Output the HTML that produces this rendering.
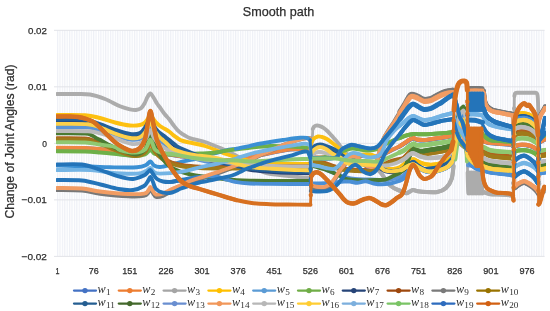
<!DOCTYPE html>
<html><head><meta charset="utf-8"><title>Smooth path</title><style>html,body{margin:0;padding:0;background:#fff}svg{display:block}</style></head><body>
<svg width="550" height="311" viewBox="0 0 550 311">
<defs><pattern id="vg" x="57" y="0" width="2.407" height="10" patternUnits="userSpaceOnUse"><rect x="0" y="0" width="1.2" height="10" fill="#EEF0F6"/></pattern><clipPath id="cp"><rect x="56" y="20" width="490" height="246"/></clipPath></defs>
<rect width="550" height="311" fill="#fff"/>
<rect x="57.0" y="30.3" width="487.6" height="226.1" fill="url(#vg)"/>
<line x1="54" x2="544.6" y1="30.30" y2="30.30" stroke="#E2E3E8" stroke-width="1"/>
<line x1="54" x2="544.6" y1="86.82" y2="86.82" stroke="#E2E3E8" stroke-width="1"/>
<line x1="54" x2="544.6" y1="143.35" y2="143.35" stroke="#E2E3E8" stroke-width="1"/>
<line x1="54" x2="544.6" y1="199.88" y2="199.88" stroke="#E2E3E8" stroke-width="1"/>
<line x1="54" x2="544.6" y1="256.40" y2="256.40" stroke="#E2E3E8" stroke-width="1"/>
<text x="278.5" y="16.1" font-family="Liberation Sans, Arial, sans-serif" font-size="13" fill="#2e2e2e" stroke="#2e2e2e" stroke-width="0.25" text-anchor="middle" textLength="71.5" lengthAdjust="spacingAndGlyphs">Smooth path</text>
<text transform="translate(14.3,141.5) rotate(-90)" font-family="Liberation Sans, Arial, sans-serif" font-size="12.3" fill="#2e2e2e" stroke="#2e2e2e" stroke-width="0.25" text-anchor="middle" textLength="154" lengthAdjust="spacingAndGlyphs">Change of Joint Angles (rad)</text>
<text x="46.9" y="33.8" font-family="Liberation Sans, Arial, sans-serif" font-size="9.6" fill="#2e2e2e" stroke="#2e2e2e" stroke-width="0.25" text-anchor="end" textLength="18.9" lengthAdjust="spacingAndGlyphs">0.02</text>
<text x="46.9" y="90.3" font-family="Liberation Sans, Arial, sans-serif" font-size="9.6" fill="#2e2e2e" stroke="#2e2e2e" stroke-width="0.25" text-anchor="end" textLength="18.9" lengthAdjust="spacingAndGlyphs">0.01</text>
<text x="46.9" y="146.8" font-family="Liberation Sans, Arial, sans-serif" font-size="9.6" fill="#2e2e2e" stroke="#2e2e2e" stroke-width="0.25" text-anchor="end" textLength="4.7" lengthAdjust="spacingAndGlyphs">0</text>
<text x="46.9" y="203.4" font-family="Liberation Sans, Arial, sans-serif" font-size="9.6" fill="#2e2e2e" stroke="#2e2e2e" stroke-width="0.25" text-anchor="end" textLength="25.3" lengthAdjust="spacingAndGlyphs">−0.01</text>
<text x="46.9" y="259.9" font-family="Liberation Sans, Arial, sans-serif" font-size="9.6" fill="#2e2e2e" stroke="#2e2e2e" stroke-width="0.25" text-anchor="end" textLength="25.3" lengthAdjust="spacingAndGlyphs">−0.02</text>
<text x="57.6" y="273.9" font-family="Liberation Sans, Arial, sans-serif" font-size="9.2" fill="#2e2e2e" stroke="#2e2e2e" stroke-width="0.25" text-anchor="middle" textLength="4.0" lengthAdjust="spacingAndGlyphs">1</text>
<text x="93.8" y="273.9" font-family="Liberation Sans, Arial, sans-serif" font-size="9.2" fill="#2e2e2e" stroke="#2e2e2e" stroke-width="0.25" text-anchor="middle" textLength="10.0" lengthAdjust="spacingAndGlyphs">76</text>
<text x="129.8" y="273.9" font-family="Liberation Sans, Arial, sans-serif" font-size="9.2" fill="#2e2e2e" stroke="#2e2e2e" stroke-width="0.25" text-anchor="middle" textLength="15.2" lengthAdjust="spacingAndGlyphs">151</text>
<text x="166.0" y="273.9" font-family="Liberation Sans, Arial, sans-serif" font-size="9.2" fill="#2e2e2e" stroke="#2e2e2e" stroke-width="0.25" text-anchor="middle" textLength="15.2" lengthAdjust="spacingAndGlyphs">226</text>
<text x="202.1" y="273.9" font-family="Liberation Sans, Arial, sans-serif" font-size="9.2" fill="#2e2e2e" stroke="#2e2e2e" stroke-width="0.25" text-anchor="middle" textLength="15.2" lengthAdjust="spacingAndGlyphs">301</text>
<text x="238.2" y="273.9" font-family="Liberation Sans, Arial, sans-serif" font-size="9.2" fill="#2e2e2e" stroke="#2e2e2e" stroke-width="0.25" text-anchor="middle" textLength="15.2" lengthAdjust="spacingAndGlyphs">376</text>
<text x="274.2" y="273.9" font-family="Liberation Sans, Arial, sans-serif" font-size="9.2" fill="#2e2e2e" stroke="#2e2e2e" stroke-width="0.25" text-anchor="middle" textLength="15.2" lengthAdjust="spacingAndGlyphs">451</text>
<text x="310.4" y="273.9" font-family="Liberation Sans, Arial, sans-serif" font-size="9.2" fill="#2e2e2e" stroke="#2e2e2e" stroke-width="0.25" text-anchor="middle" textLength="15.2" lengthAdjust="spacingAndGlyphs">526</text>
<text x="346.4" y="273.9" font-family="Liberation Sans, Arial, sans-serif" font-size="9.2" fill="#2e2e2e" stroke="#2e2e2e" stroke-width="0.25" text-anchor="middle" textLength="15.2" lengthAdjust="spacingAndGlyphs">601</text>
<text x="382.6" y="273.9" font-family="Liberation Sans, Arial, sans-serif" font-size="9.2" fill="#2e2e2e" stroke="#2e2e2e" stroke-width="0.25" text-anchor="middle" textLength="15.2" lengthAdjust="spacingAndGlyphs">676</text>
<text x="418.6" y="273.9" font-family="Liberation Sans, Arial, sans-serif" font-size="9.2" fill="#2e2e2e" stroke="#2e2e2e" stroke-width="0.25" text-anchor="middle" textLength="15.2" lengthAdjust="spacingAndGlyphs">751</text>
<text x="454.8" y="273.9" font-family="Liberation Sans, Arial, sans-serif" font-size="9.2" fill="#2e2e2e" stroke="#2e2e2e" stroke-width="0.25" text-anchor="middle" textLength="15.2" lengthAdjust="spacingAndGlyphs">826</text>
<text x="490.9" y="273.9" font-family="Liberation Sans, Arial, sans-serif" font-size="9.2" fill="#2e2e2e" stroke="#2e2e2e" stroke-width="0.25" text-anchor="middle" textLength="15.2" lengthAdjust="spacingAndGlyphs">901</text>
<text x="527.0" y="273.9" font-family="Liberation Sans, Arial, sans-serif" font-size="9.2" fill="#2e2e2e" stroke="#2e2e2e" stroke-width="0.25" text-anchor="middle" textLength="15.2" lengthAdjust="spacingAndGlyphs">976</text>
<g clip-path="url(#cp)" fill="none" stroke-linejoin="round" stroke-linecap="round">
<path d="M57.0,148.1C61.7,148.1 77.8,148.1 85.0,148.3C92.2,148.5 95.8,148.8 100.0,149.3C104.2,149.8 106.7,150.6 110.0,151.3C113.3,152.1 115.8,153.1 120.0,153.8C124.2,154.5 130.8,155.5 135.0,155.3C139.2,155.1 142.4,154.2 145.0,152.8C147.6,151.4 148.7,146.8 150.4,146.8C152.1,146.8 152.6,151.6 155.0,152.8C157.4,154.0 160.8,153.2 165.0,153.8C169.2,154.4 174.2,155.5 180.0,156.3C185.8,157.1 192.5,158.1 200.0,158.8C207.5,159.5 218.3,160.1 225.0,160.3C231.7,160.5 236.3,160.2 240.0,159.8C243.7,159.4 242.8,158.9 247.0,158.0C251.2,157.1 258.7,155.6 265.0,154.3C271.3,153.0 279.2,151.1 285.0,150.3C290.8,149.5 295.8,149.5 300.0,149.3C304.2,149.1 308.8,149.3 310.5,149.3M311.5,157.3C312.9,157.4 316.1,157.8 320.0,157.8C323.9,157.8 330.8,157.6 335.0,157.3C339.2,157.0 341.7,156.1 345.0,155.8C348.3,155.5 351.7,155.2 355.0,155.3C358.3,155.4 361.7,156.1 365.0,156.3C368.3,156.6 372.3,156.9 375.0,156.8C377.7,156.7 379.0,156.5 381.0,155.8C383.0,155.1 384.9,153.9 387.0,152.8C389.1,151.7 391.5,150.4 393.7,149.3C395.9,148.2 398.2,147.3 400.0,146.3C401.8,145.3 403.1,144.3 404.6,143.3C406.1,142.3 407.5,141.1 409.0,140.3C410.5,139.5 412.1,138.4 413.4,138.3C414.7,138.2 415.2,139.5 417.0,139.8C418.8,140.1 421.5,140.4 424.0,140.3C426.5,140.2 429.0,139.7 432.0,139.3C435.0,138.9 439.1,138.2 441.8,137.8C444.5,137.4 446.2,137.1 448.0,136.8C449.8,136.5 451.9,136.1 452.7,136.0M453.5,136.3C454.1,137.0 455.6,138.8 457.0,140.3C458.4,141.8 460.3,143.8 462.0,145.3C463.7,146.8 466.2,148.6 467.0,149.3M468.0,137.8L482.5,139.8M484.8,141.8C485.8,142.0 488.5,142.8 491.0,143.1C493.5,143.4 496.3,143.6 499.6,143.8C502.9,144.0 508.8,144.3 511.0,144.5C513.0,144.7 512.7,144.7 513.0,144.7M514.5,146.8C515.1,146.6 516.8,145.6 518.0,145.3C519.2,145.0 520.7,144.9 522.0,144.9C523.3,144.9 524.5,144.9 526.0,145.1C527.5,145.3 529.5,145.8 531.0,146.3C532.5,146.8 533.9,147.6 535.0,148.3C536.1,149.0 537.1,150.0 537.5,150.3M539.5,142.3L545.0,139.3" stroke="#3F74C6" stroke-width="3.9"/>
<path d="M310.5,149.3 L311.5,157.3M452.7,136.0 L453.5,136.3M467.0,149.3 L468.0,137.8M482.5,139.8 L484.8,141.8M513.0,144.7 L514.5,146.8M537.5,150.3 L539.5,142.3" stroke="#3F74C6" stroke-width="2.8"/>
<path d="M484.8,141.8C485.8,142.0 488.5,142.8 491.0,143.1C493.5,143.4 496.3,143.6 499.6,143.8C502.9,144.0 508.8,144.3 511.0,144.5C513.0,144.7 512.7,144.7 513.0,144.7" stroke="#3F74C6" stroke-width="4.4"/>
<path d="M514.5,146.8C515.1,146.6 516.8,145.6 518.0,145.3C519.2,145.0 520.7,144.9 522.0,144.9C523.3,144.9 524.5,144.9 526.0,145.1C527.5,145.3 529.5,145.8 531.0,146.3C532.5,146.8 533.9,147.6 535.0,148.3C536.1,149.0 537.1,150.0 537.5,150.3" stroke="#3F74C6" stroke-width="4.3"/>
<path d="M539.5,142.3L545.0,139.3" stroke="#3F74C6" stroke-width="4.3"/>
<path d="M400.0,146.3C400.8,145.8 403.1,144.3 404.6,143.3C406.1,142.3 407.5,141.1 409.0,140.3C410.5,139.5 412.1,138.4 413.4,138.3C414.7,138.2 415.2,139.5 417.0,139.8C418.8,140.1 421.5,140.4 424.0,140.3C426.5,140.2 429.0,139.7 432.0,139.3C435.0,138.9 439.1,138.2 441.8,137.8C444.5,137.4 446.2,137.1 448.0,136.8C449.8,136.5 451.9,136.1 452.7,136.0" stroke="#3F74C6" stroke-width="4.3"/>
<path d="M57.0,147.8C61.7,147.8 77.8,147.8 85.0,148.0C92.2,148.2 95.8,148.5 100.0,149.0C104.2,149.5 106.7,150.2 110.0,151.0C113.3,151.8 115.8,152.8 120.0,153.5C124.2,154.2 130.8,155.2 135.0,155.0C139.2,154.8 142.4,153.9 145.0,152.5C147.6,151.1 148.7,146.5 150.4,146.5C152.1,146.5 152.6,151.3 155.0,152.5C157.4,153.7 160.8,152.9 165.0,153.5C169.2,154.1 174.2,155.2 180.0,156.0C185.8,156.8 192.5,157.8 200.0,158.5C207.5,159.2 218.3,159.8 225.0,160.0C231.7,160.2 236.3,159.9 240.0,159.5C243.7,159.1 242.8,158.6 247.0,157.7C251.2,156.8 258.7,155.3 265.0,154.0C271.3,152.7 279.2,150.8 285.0,150.0C290.8,149.2 295.8,149.2 300.0,149.0C304.2,148.8 308.8,149.0 310.5,149.0M311.5,157.0C312.9,157.1 316.1,157.5 320.0,157.5C323.9,157.5 330.8,157.3 335.0,157.0C339.2,156.7 341.7,155.8 345.0,155.5C348.3,155.2 351.7,154.9 355.0,155.0C358.3,155.1 361.7,155.8 365.0,156.0C368.3,156.2 372.3,156.6 375.0,156.5C377.7,156.4 379.0,156.2 381.0,155.5C383.0,154.8 384.9,153.6 387.0,152.5C389.1,151.4 391.5,150.1 393.7,149.0C395.9,147.9 398.2,147.0 400.0,146.0C401.8,145.0 403.1,144.0 404.6,143.0C406.1,142.0 407.5,140.8 409.0,140.0C410.5,139.2 412.1,138.1 413.4,138.0C414.7,137.9 415.2,139.2 417.0,139.5C418.8,139.8 421.5,140.1 424.0,140.0C426.5,139.9 429.0,139.4 432.0,139.0C435.0,138.6 439.1,137.9 441.8,137.5C444.5,137.1 446.2,136.8 448.0,136.5C449.8,136.2 451.9,135.8 452.7,135.7M453.5,136.0C454.1,136.7 455.6,138.5 457.0,140.0C458.4,141.5 460.3,143.5 462.0,145.0C463.7,146.5 466.2,148.3 467.0,149.0M468.0,137.5L482.5,139.5M484.8,141.5C485.8,141.7 488.5,142.5 491.0,142.8C493.5,143.1 496.3,143.3 499.6,143.5C502.9,143.7 508.8,144.0 511.0,144.2C513.0,144.3 512.7,144.4 513.0,144.4M514.5,146.5C515.1,146.2 516.8,145.3 518.0,145.0C519.2,144.7 520.7,144.6 522.0,144.6C523.3,144.6 524.5,144.6 526.0,144.8C527.5,145.0 529.5,145.5 531.0,146.0C532.5,146.5 533.9,147.3 535.0,148.0C536.1,148.7 537.1,149.7 537.5,150.0M539.5,142.0L545.0,139.0" stroke="#EE8743" stroke-width="3.9"/>
<path d="M310.5,149.0 L311.5,157.0M452.7,135.7 L453.5,136.0M467.0,149.0 L468.0,137.5M482.5,139.5 L484.8,141.5M513.0,144.4 L514.5,146.5M537.5,150.0 L539.5,142.0" stroke="#EE8743" stroke-width="2.8"/>
<path d="M400.0,146.0C400.8,145.5 403.1,144.0 404.6,143.0C406.1,142.0 407.5,140.8 409.0,140.0C410.5,139.2 412.1,138.1 413.4,138.0C414.7,137.9 415.2,139.2 417.0,139.5C418.8,139.8 421.5,140.1 424.0,140.0C426.5,139.9 429.0,139.4 432.0,139.0C435.0,138.6 439.1,137.9 441.8,137.5C444.5,137.1 446.2,136.8 448.0,136.5C449.8,136.2 451.9,135.8 452.7,135.7" stroke="#EE8743" stroke-width="4.0"/>
<path d="M484.8,141.5C485.8,141.7 488.5,142.5 491.0,142.8C493.5,143.1 496.3,143.3 499.6,143.5C502.9,143.7 508.8,144.0 511.0,144.2C513.0,144.3 512.7,144.4 513.0,144.4" stroke="#EE8743" stroke-width="4.4"/>
<path d="M514.5,146.5C515.1,146.2 516.8,145.3 518.0,145.0C519.2,144.7 520.7,144.6 522.0,144.6C523.3,144.6 524.5,144.6 526.0,144.8C527.5,145.0 529.5,145.5 531.0,146.0C532.5,146.5 533.9,147.3 535.0,148.0C536.1,148.7 537.1,149.7 537.5,150.0" stroke="#EE8743" stroke-width="4.3"/>
<path d="M539.5,142.0L545.0,139.0" stroke="#EE8743" stroke-width="4.3"/>
<path d="M57.0,94.0C60.0,94.0 69.5,93.9 75.0,94.0C80.5,94.1 85.0,93.7 90.0,94.5C95.0,95.3 100.0,97.0 105.0,99.0C110.0,101.0 115.8,104.6 120.0,106.3C124.2,108.0 127.3,108.7 130.0,109.3C132.7,109.9 134.2,110.2 136.0,110.0C137.8,109.8 139.6,109.4 141.0,108.3C142.4,107.2 143.4,105.4 144.5,103.5C145.6,101.6 146.5,98.7 147.5,97.0C148.5,95.3 149.4,93.4 150.4,93.5C151.4,93.6 152.4,95.8 153.5,97.5C154.6,99.2 155.9,101.8 157.0,103.5C158.1,105.2 158.7,105.7 160.0,107.5C161.3,109.3 163.5,112.6 165.0,114.5C166.5,116.4 167.6,117.3 169.0,119.0C170.4,120.7 171.8,123.0 173.2,124.8C174.6,126.6 175.9,128.4 177.3,129.8C178.7,131.2 180.0,132.4 181.4,133.4C182.8,134.4 184.1,135.1 185.5,135.9C186.9,136.7 188.2,137.4 189.6,138.0C191.0,138.6 192.3,138.8 193.7,139.2C195.1,139.6 195.9,139.7 197.8,140.2C199.7,140.7 202.1,141.0 205.0,142.0C207.9,143.0 212.3,145.0 215.0,146.0C217.7,147.0 217.7,146.7 221.0,148.2C224.3,149.7 231.0,152.9 235.0,155.0C239.0,157.1 241.7,158.9 245.0,161.0C248.3,163.1 252.2,165.8 255.0,167.5C257.8,169.2 259.9,170.5 262.0,171.5C264.1,172.5 263.7,172.7 267.3,173.4C270.9,174.1 278.2,174.9 283.7,175.5C289.1,176.1 295.5,176.8 300.0,177.1C304.5,177.4 308.8,177.4 310.5,177.5M312.8,129.0C313.0,128.6 313.6,127.3 314.0,126.8C314.4,126.3 315.0,126.0 315.5,125.8C316.0,125.6 316.2,125.3 317.0,125.4C317.8,125.5 318.9,125.8 320.0,126.2C321.1,126.6 322.2,127.1 323.5,127.9C324.8,128.7 326.2,129.9 327.6,131.2C329.0,132.5 330.3,134.2 331.7,135.7C333.1,137.2 334.7,139.1 335.8,140.3C336.9,141.6 337.3,142.1 338.2,143.2C339.1,144.3 339.4,145.0 341.0,147.0C342.6,149.0 345.2,152.7 348.0,155.0C350.8,157.3 354.7,159.3 358.0,161.0C361.3,162.7 364.8,163.6 368.0,165.0C371.2,166.4 374.5,167.8 377.0,169.5C379.5,171.2 381.3,173.7 382.8,175.5C384.3,177.3 385.0,179.0 386.0,180.5C387.0,182.0 387.8,183.1 389.0,184.3C390.2,185.5 391.8,186.7 393.2,187.6C394.6,188.5 395.9,189.0 397.3,189.6C398.7,190.2 399.9,190.7 401.4,191.3C402.9,191.9 404.9,193.2 406.3,193.3C407.7,193.4 408.5,192.2 409.6,191.7C410.7,191.1 411.5,190.1 412.9,190.0C414.3,189.9 415.6,191.0 417.8,191.3C420.0,191.6 422.7,191.9 426.0,192.0C429.3,192.1 434.1,192.7 437.4,192.0C440.7,191.3 443.6,190.2 446.0,188.0C448.4,185.8 450.4,182.7 451.6,179.0C452.9,175.3 453.2,168.2 453.5,166.0M454.2,154.0C454.6,151.2 455.7,142.8 456.5,137.0C457.3,131.2 458.2,123.3 459.0,119.0C459.8,114.7 460.8,112.7 461.5,111.0C462.2,109.3 462.5,108.8 463.0,109.0C463.5,109.2 464.0,109.7 464.5,112.0C465.0,114.3 465.6,116.8 466.0,123.0C466.4,129.2 466.8,144.7 467.0,149.0M467.6,172.5C467.7,176.0 468.1,193.5 468.3,193.5C468.5,193.5 468.8,172.5 469.0,172.5C469.2,172.5 469.5,193.5 469.7,193.5C469.9,193.5 470.2,172.5 470.4,172.5C470.6,172.5 470.9,193.5 471.1,193.5C471.3,193.5 471.6,172.5 471.8,172.5C472.0,172.5 472.3,193.5 472.5,193.5C472.7,193.5 473.0,172.5 473.2,172.5C473.4,172.5 473.7,193.5 473.9,193.5C474.1,193.5 474.4,172.5 474.6,172.5C474.8,172.5 475.1,193.5 475.3,193.5C475.5,193.5 475.8,172.5 476.0,172.5C476.2,172.5 476.5,193.5 476.7,193.5C476.9,193.5 477.2,172.5 477.4,172.5C477.6,172.5 477.9,193.5 478.1,193.5C478.3,193.5 478.6,172.5 478.8,172.5C479.0,172.5 479.3,193.5 479.5,193.5C479.7,193.5 480.0,172.5 480.2,172.5C480.4,172.5 480.7,193.5 480.9,193.5C481.1,193.5 481.4,172.5 481.6,172.5C481.8,172.5 482.2,190.0 482.3,193.5M483.6,192.0C484.7,192.3 486.8,193.6 490.0,194.0C493.2,194.4 499.2,194.2 503.0,194.5C506.8,194.8 511.3,195.3 513.0,195.5M514.4,96.0C514.5,95.5 514.8,93.7 515.2,93.2C515.6,92.7 515.2,92.9 517.0,92.8C518.8,92.7 522.9,92.8 526.0,92.8C529.1,92.8 533.6,92.6 535.5,92.8C537.2,93.0 536.8,93.1 537.2,94.0C537.6,94.9 537.6,95.3 537.8,98.0C538.0,100.7 538.2,108.0 538.3,110.0M539.2,196.0L545.0,191.0" stroke="#ACACAC" stroke-width="3.9"/>
<path d="M310.5,177.5 L312.8,129.0M453.5,166.0 L454.2,154.0M467.0,149.0 L467.6,172.5M482.3,193.5 L483.6,192.0M513.0,195.5 L514.4,96.0M538.3,110.0 L539.2,196.0" stroke="#ACACAC" stroke-width="2.8"/>
<circle cx="311.1" cy="165.4" r="2.2" fill="#ACACAC" stroke="none"/>
<circle cx="311.6" cy="153.2" r="2.2" fill="#ACACAC" stroke="none"/>
<circle cx="312.2" cy="141.1" r="2.2" fill="#ACACAC" stroke="none"/>
<circle cx="467.3" cy="160.8" r="2.2" fill="#ACACAC" stroke="none"/>
<circle cx="513.2" cy="183.1" r="2.2" fill="#ACACAC" stroke="none"/>
<circle cx="513.4" cy="170.6" r="2.2" fill="#ACACAC" stroke="none"/>
<circle cx="513.5" cy="158.2" r="2.2" fill="#ACACAC" stroke="none"/>
<circle cx="513.7" cy="145.8" r="2.2" fill="#ACACAC" stroke="none"/>
<circle cx="513.9" cy="133.3" r="2.2" fill="#ACACAC" stroke="none"/>
<circle cx="514.0" cy="120.9" r="2.2" fill="#ACACAC" stroke="none"/>
<circle cx="514.2" cy="108.4" r="2.2" fill="#ACACAC" stroke="none"/>
<circle cx="538.4" cy="122.3" r="2.2" fill="#ACACAC" stroke="none"/>
<circle cx="538.6" cy="134.6" r="2.2" fill="#ACACAC" stroke="none"/>
<circle cx="538.7" cy="146.9" r="2.2" fill="#ACACAC" stroke="none"/>
<circle cx="538.8" cy="159.1" r="2.2" fill="#ACACAC" stroke="none"/>
<circle cx="538.9" cy="171.4" r="2.2" fill="#ACACAC" stroke="none"/>
<circle cx="539.1" cy="183.7" r="2.2" fill="#ACACAC" stroke="none"/>
<path d="M382.8,175.5C383.3,176.3 385.0,179.0 386.0,180.5C387.0,182.0 387.8,183.1 389.0,184.3C390.2,185.5 391.8,186.7 393.2,187.6C394.6,188.5 395.9,189.0 397.3,189.6C398.7,190.2 399.9,190.7 401.4,191.3C402.9,191.9 404.9,193.2 406.3,193.3C407.7,193.4 408.5,192.2 409.6,191.7C410.7,191.1 411.5,190.1 412.9,190.0C414.3,189.9 415.6,191.0 417.8,191.3C420.0,191.6 422.7,191.9 426.0,192.0C429.3,192.1 434.1,192.7 437.4,192.0C440.7,191.3 443.6,190.2 446.0,188.0C448.4,185.8 450.4,182.7 451.6,179.0C452.9,175.3 453.2,168.2 453.5,166.0" stroke="#ACACAC" stroke-width="4.1"/>
<path d="M483.6,192.0C484.7,192.3 486.8,193.6 490.0,194.0C493.2,194.4 499.2,194.2 503.0,194.5C506.8,194.8 511.3,195.3 513.0,195.5" stroke="#ACACAC" stroke-width="4.4"/>
<path d="M57.0,115.0C61.7,115.0 77.8,114.7 85.0,115.2C92.2,115.7 95.0,116.8 100.0,118.0C105.0,119.2 110.0,121.2 115.0,122.5C120.0,123.8 125.8,125.1 130.0,125.5C134.2,125.9 137.5,125.5 140.0,125.0C142.5,124.5 143.7,123.6 145.0,122.5C146.3,121.4 147.1,119.8 148.0,118.5C148.9,117.2 149.6,115.0 150.4,115.0C151.2,115.0 152.0,117.2 153.0,118.5C154.0,119.8 155.3,121.8 156.5,123.0C157.7,124.2 158.6,125.0 160.0,126.0C161.4,127.0 163.5,128.1 165.0,129.0C166.5,129.9 167.7,130.5 169.1,131.5C170.5,132.5 171.8,134.0 173.2,135.1C174.6,136.2 175.7,137.0 177.3,138.0C178.9,139.0 178.4,139.7 183.0,141.0C187.6,142.3 197.8,143.8 205.0,146.0C212.2,148.2 218.8,151.6 226.0,154.0C233.2,156.4 240.7,158.9 248.0,160.5C255.3,162.1 263.0,162.9 270.0,163.5C277.0,164.1 283.2,163.9 290.0,164.0C296.8,164.1 307.1,164.0 310.5,164.0M311.5,142.0C311.9,141.4 312.9,139.4 314.0,138.5C315.1,137.6 316.7,136.8 318.0,136.5C319.3,136.2 320.5,136.6 322.0,137.0C323.5,137.4 324.8,137.8 326.8,139.0C328.8,140.2 331.8,142.5 334.0,144.2C336.2,145.9 338.3,147.7 340.0,149.3C341.7,150.9 342.3,153.0 344.0,154.0C345.7,155.0 346.8,155.4 350.0,155.5C353.2,155.6 359.3,154.6 363.0,154.5C366.7,154.4 369.7,154.2 372.0,154.8C374.3,155.4 375.5,156.4 377.0,158.0C378.5,159.6 379.7,162.8 381.0,164.5C382.3,166.2 383.0,167.5 385.0,168.2C387.0,168.9 390.5,169.2 393.2,168.9C395.9,168.6 399.3,167.4 401.4,166.4C403.4,165.4 404.1,164.1 405.5,163.1C406.9,162.1 408.2,160.8 409.6,160.2C411.0,159.6 412.1,159.1 413.7,159.4C415.3,159.8 417.3,161.5 419.4,162.3C421.4,163.1 423.9,163.9 426.0,164.3C428.1,164.7 429.4,165.0 432.0,164.8C434.6,164.6 439.1,163.7 441.8,163.0C444.5,162.3 446.3,161.7 448.0,160.5C449.7,159.3 451.3,156.8 452.0,156.0M453.2,152.0C453.5,150.8 454.3,148.8 455.0,145.0C455.7,141.2 456.6,133.1 457.5,129.0C458.4,124.9 459.6,122.5 460.5,120.5C461.4,118.5 462.3,117.2 463.0,117.0C463.7,116.8 464.1,117.8 464.6,119.5C465.1,121.2 465.6,121.8 466.0,127.0C466.4,132.2 466.8,146.6 467.0,150.5M467.6,153.5C468.0,154.1 469.1,155.8 470.0,157.0C470.9,158.2 471.8,159.5 473.0,160.5C474.2,161.5 475.4,162.4 477.0,163.0C478.6,163.6 481.6,164.0 482.5,164.2M484.0,164.5C485.2,164.8 488.8,166.0 491.4,166.5C494.0,167.0 496.3,167.2 499.6,167.5C502.9,167.8 508.8,168.1 511.0,168.3C513.0,168.5 512.7,168.5 513.0,168.5M514.5,116.0C515.2,115.6 517.4,114.2 519.0,113.8C520.6,113.3 522.3,113.2 524.0,113.3C525.7,113.4 527.5,113.9 529.0,114.5C530.5,115.1 531.7,115.9 533.0,117.0C534.3,118.1 536.3,120.3 537.0,121.0M539.5,167.5L545.0,166.8" stroke="#FDC010" stroke-width="3.9"/>
<path d="M310.5,164.0 L311.5,142.0M452.0,156.0 L453.2,152.0M467.0,150.5 L467.6,153.5M482.5,164.2 L484.0,164.5M513.0,168.5 L514.5,116.0M537.0,121.0 L539.5,167.5" stroke="#FDC010" stroke-width="2.8"/>
<circle cx="311.0" cy="153.0" r="2.2" fill="#FDC010" stroke="none"/>
<circle cx="513.4" cy="155.4" r="2.2" fill="#FDC010" stroke="none"/>
<circle cx="513.8" cy="142.2" r="2.2" fill="#FDC010" stroke="none"/>
<circle cx="514.1" cy="129.1" r="2.2" fill="#FDC010" stroke="none"/>
<circle cx="537.6" cy="132.6" r="2.2" fill="#FDC010" stroke="none"/>
<circle cx="538.2" cy="144.2" r="2.2" fill="#FDC010" stroke="none"/>
<circle cx="538.9" cy="155.9" r="2.2" fill="#FDC010" stroke="none"/>
<path d="M484.0,164.5C485.2,164.8 488.8,166.0 491.4,166.5C494.0,167.0 496.3,167.2 499.6,167.5C502.9,167.8 508.8,168.1 511.0,168.3C513.0,168.5 512.7,168.5 513.0,168.5" stroke="#FDC010" stroke-width="4.4"/>
<path d="M514.5,116.0C515.2,115.6 517.4,114.2 519.0,113.8C520.6,113.3 522.3,113.2 524.0,113.3C525.7,113.4 527.5,113.9 529.0,114.5C530.5,115.1 531.7,115.9 533.0,117.0C534.3,118.1 536.3,120.3 537.0,121.0" stroke="#FDC010" stroke-width="4.3"/>
<path d="M539.5,167.5L545.0,166.8" stroke="#FDC010" stroke-width="4.3"/>
<path d="M401.4,166.4C402.1,165.8 404.1,164.1 405.5,163.1C406.9,162.1 408.2,160.8 409.6,160.2C411.0,159.6 412.1,159.1 413.7,159.4C415.3,159.8 417.3,161.5 419.4,162.3C421.4,163.1 423.9,163.9 426.0,164.3C428.1,164.7 429.4,165.0 432.0,164.8C434.6,164.6 439.1,163.7 441.8,163.0C444.5,162.3 446.3,161.7 448.0,160.5C449.7,159.3 451.3,156.8 452.0,156.0" stroke="#FDC010" stroke-width="4.3"/>
<path d="M57.0,127.0C62.2,127.0 80.8,126.7 88.0,127.3C95.2,127.9 96.7,129.6 100.0,130.5C103.3,131.4 105.5,132.2 108.0,133.0C110.5,133.8 111.3,134.2 115.0,135.3C118.7,136.4 125.8,138.9 130.0,139.5C134.2,140.1 137.3,139.8 140.0,139.0C142.7,138.2 144.3,137.1 146.0,135.0C147.7,132.9 149.1,126.7 150.4,126.5C151.7,126.3 152.4,131.4 154.0,134.0C155.6,136.6 157.3,139.3 160.0,142.0C162.7,144.7 165.8,147.7 170.0,150.0C174.2,152.3 180.0,154.3 185.0,156.0C190.0,157.7 193.3,158.5 200.0,160.0C206.7,161.5 216.7,163.7 225.0,165.0C233.3,166.3 240.8,167.3 250.0,168.0C259.2,168.7 269.9,168.8 280.0,169.0C290.1,169.2 305.4,169.4 310.5,169.5M311.5,162.5C312.6,162.9 315.4,163.7 318.0,165.0C320.6,166.3 324.1,169.0 327.3,170.5C330.5,172.0 334.1,172.9 337.0,174.0C339.9,175.1 342.0,176.2 345.0,177.0C348.0,177.8 350.8,178.6 355.0,179.0C359.2,179.4 365.0,179.3 370.0,179.5C375.0,179.7 380.8,180.2 385.0,180.0C389.2,179.8 392.0,179.2 395.0,178.5C398.0,177.8 400.8,177.2 403.0,176.0C405.2,174.8 406.2,172.8 408.0,171.0C409.8,169.2 411.8,165.6 413.7,165.2C415.6,164.8 417.3,167.5 419.4,168.5C421.4,169.5 423.9,170.8 426.0,171.4C428.1,172.0 429.4,172.3 432.0,172.0C434.6,171.7 439.1,170.7 441.8,169.8C444.5,168.9 446.3,168.1 448.0,166.8C449.7,165.6 451.3,163.1 452.0,162.3M454.5,142.3C454.9,139.3 456.1,128.3 457.0,124.3C457.9,120.3 459.0,119.6 460.0,118.3C461.0,117.0 461.8,116.5 463.0,116.3C464.2,116.1 466.3,117.1 467.0,117.3M468.0,165.3L482.5,167.3M483.6,167.3C484.7,167.6 487.4,168.8 490.0,169.3C492.6,169.9 495.2,170.3 499.0,170.6C502.8,170.9 510.7,171.2 513.0,171.3M514.5,122.8C515.2,122.5 517.4,121.2 519.0,120.8C520.6,120.4 522.3,120.2 524.0,120.3C525.7,120.4 527.5,120.9 529.0,121.6C530.5,122.3 531.7,123.2 533.0,124.3C534.3,125.4 536.3,127.6 537.0,128.3M539.5,164.3L545.0,161.3" stroke="#5B94D6" stroke-width="3.9"/>
<path d="M310.5,169.5 L311.5,162.5M452.0,162.3 L454.5,142.3M467.0,117.3 L468.0,165.3M482.5,167.3 L483.6,167.3M513.0,171.3 L514.5,122.8M537.0,128.3 L539.5,164.3" stroke="#5B94D6" stroke-width="2.8"/>
<circle cx="467.2" cy="129.3" r="2.2" fill="#5B94D6" stroke="none"/>
<circle cx="467.5" cy="141.3" r="2.2" fill="#5B94D6" stroke="none"/>
<circle cx="467.8" cy="153.3" r="2.2" fill="#5B94D6" stroke="none"/>
<circle cx="513.4" cy="159.2" r="2.2" fill="#5B94D6" stroke="none"/>
<circle cx="513.8" cy="147.1" r="2.2" fill="#5B94D6" stroke="none"/>
<circle cx="514.1" cy="134.9" r="2.2" fill="#5B94D6" stroke="none"/>
<circle cx="537.8" cy="140.3" r="2.2" fill="#5B94D6" stroke="none"/>
<circle cx="538.7" cy="152.3" r="2.2" fill="#5B94D6" stroke="none"/>
<path d="M483.6,167.3C484.7,167.6 487.4,168.8 490.0,169.3C492.6,169.9 495.2,170.3 499.0,170.6C502.8,170.9 510.7,171.2 513.0,171.3" stroke="#5B94D6" stroke-width="4.4"/>
<path d="M514.5,122.8C515.2,122.5 517.4,121.2 519.0,120.8C520.6,120.4 522.3,120.2 524.0,120.3C525.7,120.4 527.5,120.9 529.0,121.6C530.5,122.3 531.7,123.2 533.0,124.3C534.3,125.4 536.3,127.6 537.0,128.3" stroke="#5B94D6" stroke-width="4.3"/>
<path d="M539.5,164.3L545.0,161.3" stroke="#5B94D6" stroke-width="4.3"/>
<path d="M403.0,176.0C403.8,175.2 406.2,172.8 408.0,171.0C409.8,169.2 411.8,165.6 413.7,165.2C415.6,164.8 417.3,167.5 419.4,168.5C421.4,169.5 423.9,170.8 426.0,171.4C428.1,172.0 429.4,172.3 432.0,172.0C434.6,171.7 439.1,170.7 441.8,169.8C444.5,168.9 446.3,168.1 448.0,166.8C449.7,165.6 451.3,163.1 452.0,162.3" stroke="#5B94D6" stroke-width="4.3"/>
<path d="M57.0,165.5C62.7,165.7 82.2,166.2 91.0,166.5C99.8,166.8 102.3,167.2 110.0,167.3C117.7,167.4 131.0,167.7 137.0,167.3C143.0,166.9 143.8,166.0 146.0,165.0C148.2,164.0 149.1,161.4 150.4,161.5C151.7,161.6 152.4,164.6 154.0,165.5C155.6,166.4 157.0,167.2 160.0,167.0C163.0,166.8 168.2,165.4 172.0,164.5C175.8,163.6 178.4,162.6 183.0,161.5C187.6,160.4 195.8,159.0 199.5,158.0C203.2,157.0 202.0,156.4 205.0,155.5C208.0,154.6 214.2,153.4 217.7,152.5C221.2,151.6 222.9,150.9 226.0,150.3C229.1,149.7 234.3,149.1 236.0,148.8" stroke="#3B90D4" stroke-width="3.9"/>
<path d="M57.0,151.3C61.7,151.3 77.8,151.3 85.0,151.5C92.2,151.7 94.2,152.0 100.0,152.5C105.8,153.0 114.2,153.9 120.0,154.5C125.8,155.1 130.8,156.0 135.0,156.0C139.2,156.0 142.4,155.5 145.0,154.5C147.6,153.5 148.7,150.1 150.4,150.0C152.1,149.9 152.6,153.2 155.0,154.0C157.4,154.8 160.8,154.4 165.0,154.5C169.2,154.6 174.2,154.7 180.0,154.5C185.8,154.3 194.1,153.8 200.0,153.5C205.9,153.2 211.2,153.0 215.6,152.5C220.0,152.0 221.1,151.3 226.5,150.6C231.9,149.8 240.8,148.8 248.0,148.0C255.2,147.2 263.0,146.2 270.0,146.0C277.0,145.8 284.2,146.2 290.0,146.5C295.8,146.8 301.6,147.2 305.0,147.5C308.4,147.8 309.6,147.9 310.5,148.0M311.5,158.0C312.9,158.0 317.2,158.3 320.0,158.0C322.8,157.7 325.4,157.0 328.0,156.0C330.6,155.0 333.0,152.8 335.5,152.0C338.0,151.2 340.8,151.4 343.0,151.0C345.2,150.6 346.9,149.7 348.6,149.3C350.3,148.9 350.6,148.4 353.0,148.5C355.4,148.6 360.2,149.7 363.0,150.0C365.8,150.3 367.6,150.7 370.0,150.5C372.4,150.3 375.5,149.8 377.7,149.0C379.9,148.2 381.4,146.9 383.0,146.0C384.6,145.1 385.2,144.5 387.0,143.5C388.8,142.5 391.8,140.9 394.0,140.0C396.2,139.1 398.2,138.7 400.0,138.0C401.8,137.3 403.1,136.5 404.6,136.0C406.1,135.5 407.5,135.1 409.0,134.8C410.5,134.5 411.6,134.1 413.4,134.0C415.2,133.9 416.9,134.3 420.0,134.3C423.1,134.3 428.4,134.2 432.0,134.0C435.6,133.8 439.1,133.4 441.8,133.2C444.5,133.0 446.2,132.9 448.0,132.7C449.8,132.5 451.9,132.1 452.7,132.0M453.5,131.0C454.1,132.0 455.6,134.8 457.0,137.0C458.4,139.2 460.3,141.8 462.0,144.0C463.7,146.2 466.2,149.0 467.0,150.0M468.0,131.0L482.5,133.5M484.0,135.5C484.6,136.0 486.1,137.7 487.3,138.5C488.5,139.3 489.3,139.9 491.4,140.3C493.4,140.7 496.2,140.6 499.6,140.8C503.0,141.1 509.8,141.6 511.9,141.8M514.5,152.0C515.1,151.8 516.8,150.8 518.0,150.5C519.2,150.2 520.7,150.2 522.0,150.2C523.3,150.2 524.5,150.1 526.0,150.3C527.5,150.5 529.5,151.0 531.0,151.5C532.5,152.0 533.9,152.8 535.0,153.5C536.1,154.2 537.1,155.2 537.5,155.5M539.5,138.0L545.0,135.0" stroke="#6EB048" stroke-width="3.9"/>
<path d="M310.5,148.0 L311.5,158.0M452.7,132.0 L453.5,131.0M467.0,150.0 L468.0,131.0M482.5,133.5 L484.0,135.5M511.9,141.8 L514.5,152.0M537.5,155.5 L539.5,138.0" stroke="#6EB048" stroke-width="2.8"/>
<path d="M400.0,138.0C400.8,137.7 403.1,136.5 404.6,136.0C406.1,135.5 407.5,135.1 409.0,134.8C410.5,134.5 411.6,134.1 413.4,134.0C415.2,133.9 416.9,134.3 420.0,134.3C423.1,134.3 428.4,134.2 432.0,134.0C435.6,133.8 439.1,133.4 441.8,133.2C444.5,133.0 446.2,132.9 448.0,132.7C449.8,132.5 451.9,132.1 452.7,132.0" stroke="#6EB048" stroke-width="4.0"/>
<path d="M484.0,135.5C484.6,136.0 486.1,137.7 487.3,138.5C488.5,139.3 489.3,139.9 491.4,140.3C493.4,140.7 496.2,140.6 499.6,140.8C503.0,141.1 509.8,141.6 511.9,141.8" stroke="#6EB048" stroke-width="4.4"/>
<path d="M514.5,152.0C515.1,151.8 516.8,150.8 518.0,150.5C519.2,150.2 520.7,150.2 522.0,150.2C523.3,150.2 524.5,150.1 526.0,150.3C527.5,150.5 529.5,151.0 531.0,151.5C532.5,152.0 533.9,152.8 535.0,153.5C536.1,154.2 537.1,155.2 537.5,155.5" stroke="#6EB048" stroke-width="4.3"/>
<path d="M539.5,138.0L545.0,135.0" stroke="#6EB048" stroke-width="4.3"/>
<path d="M57.0,120.7C61.7,120.8 77.8,120.2 85.0,121.0C92.2,121.8 95.0,123.7 100.0,125.4C105.0,127.1 110.0,129.4 115.0,131.0C120.0,132.6 125.8,134.7 130.0,135.2C134.2,135.7 137.3,135.5 140.0,134.2C142.7,132.9 144.3,129.6 146.0,127.2C147.7,124.8 149.1,119.7 150.4,119.7C151.7,119.7 152.7,125.0 154.0,127.2C155.3,129.4 156.5,131.2 158.0,132.7C159.5,134.2 161.5,135.2 162.8,136.2C164.1,137.2 164.9,137.9 166.0,138.7C167.1,139.5 168.2,140.3 169.3,141.2C170.4,142.1 171.5,143.1 172.6,144.0C173.7,144.9 174.8,145.8 176.0,146.7C177.2,147.6 176.0,147.4 180.0,149.2C184.0,150.9 192.5,154.6 200.0,157.2C207.5,159.8 216.7,162.6 225.0,164.7C233.3,166.8 242.5,168.5 250.0,169.7C257.5,170.9 263.3,171.2 270.0,171.7C276.7,172.2 283.2,172.6 290.0,172.8C296.8,173.0 307.1,173.0 310.5,173.1M311.5,151.2C312.1,150.5 313.6,148.1 315.0,147.2C316.4,146.3 318.2,145.7 320.0,145.7C321.8,145.7 323.7,146.4 326.0,147.2C328.3,148.0 331.3,149.0 334.0,150.5C336.7,152.0 339.3,154.4 342.0,156.2C344.7,158.0 346.7,159.9 350.0,161.2C353.3,162.5 357.8,163.5 362.0,164.2C366.2,164.9 371.2,164.0 375.0,165.2C378.8,166.4 382.0,170.0 385.0,171.2C388.0,172.4 390.3,172.2 393.0,172.2C395.7,172.2 398.9,171.7 401.0,171.0C403.1,170.3 404.1,169.2 405.5,168.2C406.9,167.2 408.3,166.0 409.6,165.2C410.9,164.4 412.2,163.0 413.4,163.2C414.6,163.4 415.2,165.0 417.0,166.2C418.8,167.4 421.5,169.6 424.0,170.2C426.5,170.8 429.0,170.2 432.0,169.7C435.0,169.2 439.1,168.1 441.8,167.2C444.5,166.3 446.3,165.4 448.0,164.2C449.7,163.0 451.3,160.9 452.0,160.2M453.2,156.2C453.5,155.4 454.3,154.7 455.0,151.2C455.7,147.7 456.6,139.3 457.5,135.2C458.4,131.1 459.6,128.7 460.5,126.7C461.4,124.7 462.3,123.4 463.0,123.2C463.7,123.0 464.1,124.0 464.6,125.7C465.1,127.4 465.6,128.1 466.0,133.2C466.4,138.3 466.8,152.4 467.0,156.2M467.6,159.2C468.0,159.8 469.1,161.5 470.0,162.7C470.9,163.9 471.8,165.2 473.0,166.2C474.2,167.2 475.4,168.1 477.0,168.7C478.6,169.3 481.6,169.7 482.5,169.9M484.0,170.2C485.2,170.5 488.8,171.7 491.4,172.2C494.0,172.7 496.3,172.7 499.6,173.0C502.9,173.3 508.8,173.8 511.0,174.0C513.0,174.2 512.7,174.2 513.0,174.2M514.5,120.2C515.2,119.8 517.4,118.4 519.0,117.9C520.6,117.4 522.3,117.3 524.0,117.4C525.7,117.5 527.5,118.1 529.0,118.7C530.5,119.3 531.7,120.1 533.0,121.2C534.3,122.3 536.3,124.5 537.0,125.2M539.5,172.7L545.0,171.7" stroke="#264478" stroke-width="3.9"/>
<path d="M310.5,173.1 L311.5,151.2M452.0,160.2 L453.2,156.2M467.0,156.2 L467.6,159.2M482.5,169.9 L484.0,170.2M513.0,174.2 L514.5,120.2M537.0,125.2 L539.5,172.7" stroke="#264478" stroke-width="2.8"/>
<circle cx="513.4" cy="160.7" r="2.2" fill="#264478" stroke="none"/>
<circle cx="513.8" cy="147.2" r="2.2" fill="#264478" stroke="none"/>
<circle cx="514.1" cy="133.7" r="2.2" fill="#264478" stroke="none"/>
<circle cx="537.6" cy="137.1" r="2.2" fill="#264478" stroke="none"/>
<circle cx="538.2" cy="148.9" r="2.2" fill="#264478" stroke="none"/>
<circle cx="538.9" cy="160.8" r="2.2" fill="#264478" stroke="none"/>
<path d="M484.0,170.2C485.2,170.5 488.8,171.7 491.4,172.2C494.0,172.7 496.3,172.7 499.6,173.0C502.9,173.3 508.8,173.8 511.0,174.0C513.0,174.2 512.7,174.2 513.0,174.2" stroke="#264478" stroke-width="4.4"/>
<path d="M514.5,120.2C515.2,119.8 517.4,118.4 519.0,117.9C520.6,117.4 522.3,117.3 524.0,117.4C525.7,117.5 527.5,118.1 529.0,118.7C530.5,119.3 531.7,120.1 533.0,121.2C534.3,122.3 536.3,124.5 537.0,125.2" stroke="#264478" stroke-width="4.3"/>
<path d="M539.5,172.7L545.0,171.7" stroke="#264478" stroke-width="4.3"/>
<path d="M401.0,171.0C401.8,170.5 404.1,169.2 405.5,168.2C406.9,167.2 408.3,166.0 409.6,165.2C410.9,164.4 412.2,163.0 413.4,163.2C414.6,163.4 415.2,165.0 417.0,166.2C418.8,167.4 421.5,169.6 424.0,170.2C426.5,170.8 429.0,170.2 432.0,169.7C435.0,169.2 439.1,168.1 441.8,167.2C444.5,166.3 446.3,165.4 448.0,164.2C449.7,163.0 451.3,160.9 452.0,160.2" stroke="#264478" stroke-width="4.3"/>
<path d="M57.0,138.2C61.7,138.2 78.9,138.0 85.0,138.4C91.1,138.8 90.3,139.6 93.6,140.7C96.9,141.8 100.6,143.0 105.0,144.7C109.4,146.4 115.0,149.0 120.0,150.7C125.0,152.4 130.8,154.6 135.0,154.7C139.2,154.8 142.4,153.4 145.0,151.2C147.6,148.9 148.7,141.3 150.4,141.2C152.1,141.1 153.1,147.9 155.0,150.7C156.9,153.4 159.2,155.7 162.0,157.7C164.8,159.7 168.5,161.4 172.0,162.7C175.5,163.9 178.3,164.5 183.0,165.2C187.7,165.9 193.8,166.4 200.0,166.7C206.2,167.0 213.8,167.1 220.0,167.2C226.2,167.3 230.3,167.3 237.0,167.2C243.7,167.1 251.2,166.9 260.0,166.7C268.8,166.5 281.6,166.3 290.0,166.2C298.4,166.1 307.1,166.2 310.5,166.2M311.5,158.7C312.2,159.0 313.9,160.0 316.0,160.7C318.1,161.4 321.0,161.8 324.0,162.7C327.0,163.6 331.2,165.3 334.0,166.2C336.8,167.1 337.5,167.6 341.0,168.2C344.5,168.8 350.2,169.4 355.0,169.7C359.8,169.9 365.8,170.3 370.0,169.7C374.2,169.1 376.8,167.5 380.0,166.2C383.2,164.9 386.1,162.9 389.0,161.8C391.9,160.7 394.8,160.1 397.3,159.4C399.8,158.7 402.0,158.8 403.9,157.7C405.8,156.6 407.4,154.2 408.8,152.8C410.2,151.3 411.2,149.7 412.0,149.0C412.8,148.3 412.6,148.2 413.4,148.4C414.2,148.6 415.2,149.7 417.0,150.4C418.8,151.1 421.5,152.5 424.0,152.7C426.5,152.9 429.0,152.1 432.0,151.7C435.0,151.3 439.1,150.7 441.8,150.2C444.5,149.7 446.3,149.3 448.0,148.7C449.7,148.1 451.3,147.0 452.0,146.7M453.2,141.8C453.5,143.6 454.3,153.2 455.0,152.3C455.7,151.4 456.6,140.4 457.5,136.3C458.4,132.2 459.6,129.8 460.5,127.8C461.4,125.8 462.3,124.5 463.0,124.3C463.7,124.1 464.1,125.1 464.6,126.8C465.1,128.5 465.6,129.7 466.0,134.3C466.4,138.9 466.8,151.0 467.0,154.3M467.6,139.8C468.0,140.4 469.1,142.1 470.0,143.3C470.9,144.5 471.8,145.8 473.0,146.8C474.2,147.8 475.4,148.7 477.0,149.3C478.6,149.9 481.6,150.3 482.5,150.5M484.0,150.8C484.6,151.1 486.1,152.2 487.3,152.8C488.5,153.4 489.3,153.7 491.4,154.1C493.4,154.5 496.3,154.8 499.6,155.1C502.9,155.4 508.8,155.9 511.0,156.1C513.0,156.3 512.7,156.3 513.0,156.3M514.5,133.3C515.1,133.1 516.8,132.1 518.0,131.8C519.2,131.5 520.7,131.3 522.0,131.3C523.3,131.3 524.5,131.3 526.0,131.6C527.5,131.9 529.5,132.4 531.0,133.0C532.5,133.6 533.9,134.6 535.0,135.3C536.1,136.0 537.1,137.0 537.5,137.3M539.5,154.3L545.0,153.3" stroke="#B0601E" stroke-width="3.9"/>
<path d="M310.5,166.2 L311.5,158.7M452.0,146.7 L453.2,141.8M467.0,154.3 L467.6,139.8M482.5,150.5 L484.0,150.8M513.0,156.3 L514.5,133.3M537.5,137.3 L539.5,154.3" stroke="#B0601E" stroke-width="2.8"/>
<circle cx="513.8" cy="144.8" r="2.2" fill="#B0601E" stroke="none"/>
<path d="M484.0,150.8C484.6,151.1 486.1,152.2 487.3,152.8C488.5,153.4 489.3,153.7 491.4,154.1C493.4,154.5 496.3,154.8 499.6,155.1C502.9,155.4 508.8,155.9 511.0,156.1C513.0,156.3 512.7,156.3 513.0,156.3" stroke="#B0601E" stroke-width="4.4"/>
<path d="M514.5,133.3C515.1,133.1 516.8,132.1 518.0,131.8C519.2,131.5 520.7,131.3 522.0,131.3C523.3,131.3 524.5,131.3 526.0,131.6C527.5,131.9 529.5,132.4 531.0,133.0C532.5,133.6 533.9,134.6 535.0,135.3C536.1,136.0 537.1,137.0 537.5,137.3" stroke="#B0601E" stroke-width="4.3"/>
<path d="M539.5,154.3L545.0,153.3" stroke="#B0601E" stroke-width="4.3"/>
<path d="M403.9,157.7C404.7,156.9 407.4,154.2 408.8,152.8C410.2,151.3 411.2,149.7 412.0,149.0C412.8,148.3 412.6,148.2 413.4,148.4C414.2,148.6 415.2,149.7 417.0,150.4C418.8,151.1 421.5,152.5 424.0,152.7C426.5,152.9 429.0,152.1 432.0,151.7C435.0,151.3 439.1,150.7 441.8,150.2C444.5,149.7 446.3,149.3 448.0,148.7C449.7,148.1 451.3,147.0 452.0,146.7" stroke="#B0601E" stroke-width="4.3"/>
<path d="M57.0,190.0C61.2,190.1 74.8,189.9 82.0,190.5C89.2,191.2 92.3,192.7 100.0,193.7C107.7,194.6 120.7,195.9 128.0,196.3C135.3,196.7 140.7,196.4 144.0,195.9C147.3,195.4 146.9,194.3 148.0,193.2C149.1,192.0 149.6,189.0 150.4,189.0C151.2,189.0 152.1,191.9 153.0,193.2C153.9,194.5 154.3,196.4 156.0,196.8C157.7,197.3 160.3,196.8 163.0,195.9C165.7,194.9 169.0,192.6 172.0,191.1C175.0,189.6 177.9,188.3 181.0,186.9C184.1,185.5 187.4,183.7 190.5,182.5C193.6,181.3 195.0,181.0 199.5,179.5C204.0,178.0 211.6,175.7 217.7,173.5C223.8,171.4 231.4,168.2 236.0,166.5C240.6,164.9 241.0,165.4 245.0,163.6C249.0,161.8 255.5,157.8 260.0,155.5C264.5,153.3 268.2,152.1 272.0,150.3C275.8,148.6 279.2,146.7 283.0,145.1C286.8,143.5 291.3,142.1 295.0,140.9C298.7,139.8 302.5,138.6 305.0,138.2C307.5,137.8 309.2,138.3 310.0,138.3M311.5,186.9C312.3,187.2 314.1,188.5 316.4,188.8C318.6,189.1 322.6,189.3 325.0,188.8C327.4,188.2 328.8,187.1 330.6,185.3C332.4,183.5 334.4,180.3 336.0,177.9C337.6,175.5 339.1,172.9 340.4,171.0C341.7,169.1 342.4,168.4 343.7,166.5C345.0,164.6 346.4,161.4 348.0,159.7C349.6,158.1 351.3,156.8 353.0,156.6C354.7,156.4 356.2,157.3 358.0,158.7C359.8,160.1 362.2,163.4 364.0,164.9C365.8,166.5 367.2,167.4 369.0,167.8C370.8,168.1 373.4,169.1 375.0,167.0C376.6,165.0 377.1,160.1 378.4,155.5C379.7,151.0 381.6,143.7 383.0,139.9C384.4,136.0 385.2,135.6 387.0,132.6C388.8,129.5 391.8,125.2 394.0,121.7C396.2,118.2 398.2,114.5 400.0,111.7C401.8,108.8 403.3,106.6 404.6,104.3C405.9,102.1 406.9,99.7 408.0,98.1C409.1,96.4 409.7,95.0 411.0,94.5C412.3,94.0 414.1,94.6 415.6,95.1C417.1,95.6 418.6,96.8 420.0,97.5C421.4,98.3 422.2,99.2 424.0,99.4C425.8,99.6 429.0,99.2 431.0,98.6C433.0,98.0 434.2,96.7 436.0,95.8C437.8,94.8 440.0,93.6 441.8,92.8C443.6,92.0 445.2,91.4 447.0,91.0C448.8,90.5 451.8,90.3 452.7,90.2M453.2,90.2C453.8,92.8 455.4,100.4 456.5,105.4C457.6,110.3 458.7,114.3 460.0,120.0C461.3,125.8 463.1,134.8 464.3,139.9C465.5,144.9 466.6,148.6 467.0,150.3M468.0,88.1C469.2,88.1 472.6,87.9 475.0,87.9C477.4,87.9 481.2,88.1 482.5,88.1M483.6,90.8C483.8,92.0 484.2,96.0 484.5,98.1C484.8,100.1 484.9,101.5 485.5,103.0C486.1,104.5 486.8,105.8 488.0,106.9C489.2,108.1 490.5,109.2 493.0,110.1C495.5,110.9 499.7,111.4 503.0,112.1C506.3,112.7 511.0,113.8 512.6,114.2M515.0,188.1C515.7,187.6 517.5,185.9 519.0,185.0C520.5,184.1 522.6,183.1 523.9,182.9C525.2,182.7 526.0,183.5 527.0,184.0C528.0,184.4 528.5,184.7 529.6,185.4C530.7,186.2 532.5,187.4 533.7,188.5C534.9,189.5 536.3,191.0 537.0,191.9C537.7,192.8 537.8,193.4 538.0,193.7M539.0,119.0C539.3,118.1 540.1,115.6 541.0,113.7C541.9,111.9 543.6,109.3 544.3,108.1C545.0,106.9 544.9,106.7 545.0,106.4" stroke="#787878" stroke-width="3.9"/>
<path d="M310.0,138.3 L311.5,186.9M452.7,90.2 L453.2,90.2M467.0,150.3 L468.0,88.1M482.5,88.1 L483.6,90.8M512.6,114.2 L515.0,188.1M538.0,193.7 L539.0,119.0" stroke="#787878" stroke-width="2.8"/>
<circle cx="310.4" cy="150.4" r="2.2" fill="#787878" stroke="none"/>
<circle cx="310.8" cy="162.6" r="2.2" fill="#787878" stroke="none"/>
<circle cx="311.1" cy="174.7" r="2.2" fill="#787878" stroke="none"/>
<circle cx="467.2" cy="137.9" r="2.2" fill="#787878" stroke="none"/>
<circle cx="467.4" cy="125.4" r="2.2" fill="#787878" stroke="none"/>
<circle cx="467.6" cy="113.0" r="2.2" fill="#787878" stroke="none"/>
<circle cx="467.8" cy="100.6" r="2.2" fill="#787878" stroke="none"/>
<circle cx="513.0" cy="126.5" r="2.2" fill="#787878" stroke="none"/>
<circle cx="513.4" cy="138.8" r="2.2" fill="#787878" stroke="none"/>
<circle cx="513.8" cy="151.2" r="2.2" fill="#787878" stroke="none"/>
<circle cx="514.2" cy="163.5" r="2.2" fill="#787878" stroke="none"/>
<circle cx="514.6" cy="175.8" r="2.2" fill="#787878" stroke="none"/>
<circle cx="538.2" cy="181.2" r="2.2" fill="#787878" stroke="none"/>
<circle cx="538.3" cy="168.8" r="2.2" fill="#787878" stroke="none"/>
<circle cx="538.5" cy="156.3" r="2.2" fill="#787878" stroke="none"/>
<circle cx="538.7" cy="143.9" r="2.2" fill="#787878" stroke="none"/>
<circle cx="538.8" cy="131.4" r="2.2" fill="#787878" stroke="none"/>
<path d="M400.0,111.7C400.8,110.4 403.3,106.6 404.6,104.3C405.9,102.1 406.9,99.7 408.0,98.1C409.1,96.4 409.7,95.0 411.0,94.5C412.3,94.0 414.1,94.6 415.6,95.1C417.1,95.6 418.6,96.8 420.0,97.5C421.4,98.3 422.2,99.2 424.0,99.4C425.8,99.6 429.0,99.2 431.0,98.6C433.0,98.0 434.2,96.7 436.0,95.8C437.8,94.8 440.0,93.6 441.8,92.8C443.6,92.0 445.2,91.4 447.0,91.0C448.8,90.5 451.8,90.3 452.7,90.2" stroke="#787878" stroke-width="5.2"/>
<path d="M483.6,90.8C483.8,92.0 484.2,96.0 484.5,98.1C484.8,100.1 484.9,101.5 485.5,103.0C486.1,104.5 486.8,105.8 488.0,106.9C489.2,108.1 490.5,109.2 493.0,110.1C495.5,110.9 499.7,111.4 503.0,112.1C506.3,112.7 511.0,113.8 512.6,114.2" stroke="#787878" stroke-width="4.4"/>
<path d="M483.6,90.8C483.8,92.0 484.2,96.0 484.5,98.1C484.8,100.1 484.9,101.5 485.5,103.0C486.1,104.5 486.8,105.8 488.0,106.9C489.2,108.1 490.5,109.2 493.0,110.1C495.5,110.9 499.7,111.4 503.0,112.1C506.3,112.7 511.0,113.8 512.6,114.2" stroke="#787878" stroke-width="4.4"/>
<path d="M515.0,188.1C515.7,187.6 517.5,185.9 519.0,185.0C520.5,184.1 522.6,183.1 523.9,182.9C525.2,182.7 526.0,183.5 527.0,184.0C528.0,184.4 528.5,184.7 529.6,185.4C530.7,186.2 532.5,187.4 533.7,188.5C534.9,189.5 536.3,191.0 537.0,191.9C537.7,192.8 537.8,193.4 538.0,193.7" stroke="#787878" stroke-width="4.3"/>
<path d="M539.0,119.0C539.3,118.1 540.1,115.6 541.0,113.7C541.9,111.9 543.6,109.3 544.3,108.1C545.0,106.9 544.9,106.7 545.0,106.4" stroke="#787878" stroke-width="4.3"/>
<path d="M57.0,139.5C61.7,139.5 78.9,139.3 85.0,139.7C91.1,140.1 90.3,140.9 93.6,142.0C96.9,143.1 100.6,144.3 105.0,146.0C109.4,147.7 115.0,150.3 120.0,152.0C125.0,153.7 130.8,155.9 135.0,156.0C139.2,156.1 142.4,154.8 145.0,152.5C147.6,150.2 148.7,142.6 150.4,142.5C152.1,142.4 153.1,149.2 155.0,152.0C156.9,154.8 159.2,157.0 162.0,159.0C164.8,161.0 168.5,162.8 172.0,164.0C175.5,165.2 178.3,165.8 183.0,166.5C187.7,167.2 193.8,167.7 200.0,168.0C206.2,168.3 213.8,168.4 220.0,168.5C226.2,168.6 230.3,168.6 237.0,168.5C243.7,168.4 251.2,168.2 260.0,168.0C268.8,167.8 281.6,167.6 290.0,167.5C298.4,167.4 307.1,167.5 310.5,167.5M311.5,160.0C312.2,160.3 313.9,161.3 316.0,162.0C318.1,162.7 321.0,163.1 324.0,164.0C327.0,164.9 331.2,166.6 334.0,167.5C336.8,168.4 337.5,168.9 341.0,169.5C344.5,170.1 350.2,170.8 355.0,171.0C359.8,171.2 365.8,171.6 370.0,171.0C374.2,170.4 376.8,168.8 380.0,167.5C383.2,166.2 386.1,164.2 389.0,163.1C391.9,162.0 394.8,161.4 397.3,160.7C399.8,160.0 402.0,160.1 403.9,159.0C405.8,157.9 407.4,155.5 408.8,154.1C410.2,152.7 411.2,151.0 412.0,150.3C412.8,149.6 412.6,149.5 413.4,149.7C414.2,149.9 415.2,151.0 417.0,151.7C418.8,152.4 421.5,153.8 424.0,154.0C426.5,154.2 429.0,153.4 432.0,153.0C435.0,152.6 439.1,152.0 441.8,151.5C444.5,151.0 446.3,150.6 448.0,150.0C449.7,149.4 451.3,148.3 452.0,148.0M453.2,144.0C453.5,145.8 454.3,155.4 455.0,154.5C455.7,153.6 456.6,142.6 457.5,138.5C458.4,134.4 459.6,132.0 460.5,130.0C461.4,128.0 462.3,126.7 463.0,126.5C463.7,126.3 464.1,127.3 464.6,129.0C465.1,130.7 465.6,131.9 466.0,136.5C466.4,141.1 466.8,153.2 467.0,156.5M467.6,142.0C468.0,142.6 469.1,144.3 470.0,145.5C470.9,146.7 471.8,148.0 473.0,149.0C474.2,150.0 475.4,150.9 477.0,151.5C478.6,152.1 481.6,152.5 482.5,152.7M484.0,153.0C484.6,153.3 486.1,154.4 487.3,155.0C488.5,155.6 489.3,155.9 491.4,156.3C493.4,156.7 496.3,157.0 499.6,157.3C502.9,157.6 508.8,158.1 511.0,158.3C513.0,158.5 512.7,158.5 513.0,158.5M514.5,135.5C515.1,135.2 516.8,134.3 518.0,134.0C519.2,133.7 520.7,133.5 522.0,133.5C523.3,133.5 524.5,133.5 526.0,133.8C527.5,134.1 529.5,134.6 531.0,135.2C532.5,135.8 533.9,136.8 535.0,137.5C536.1,138.2 537.1,139.2 537.5,139.5M539.5,156.5L545.0,155.5" stroke="#A07A1A" stroke-width="3.9"/>
<path d="M310.5,167.5 L311.5,160.0M452.0,148.0 L453.2,144.0M467.0,156.5 L467.6,142.0M482.5,152.7 L484.0,153.0M513.0,158.5 L514.5,135.5M537.5,139.5 L539.5,156.5" stroke="#A07A1A" stroke-width="2.8"/>
<circle cx="513.8" cy="147.0" r="2.2" fill="#A07A1A" stroke="none"/>
<path d="M484.0,153.0C484.6,153.3 486.1,154.4 487.3,155.0C488.5,155.6 489.3,155.9 491.4,156.3C493.4,156.7 496.3,157.0 499.6,157.3C502.9,157.6 508.8,158.1 511.0,158.3C513.0,158.5 512.7,158.5 513.0,158.5" stroke="#A07A1A" stroke-width="4.4"/>
<path d="M514.5,135.5C515.1,135.2 516.8,134.3 518.0,134.0C519.2,133.7 520.7,133.5 522.0,133.5C523.3,133.5 524.5,133.5 526.0,133.8C527.5,134.1 529.5,134.6 531.0,135.2C532.5,135.8 533.9,136.8 535.0,137.5C536.1,138.2 537.1,139.2 537.5,139.5" stroke="#A07A1A" stroke-width="4.3"/>
<path d="M539.5,156.5L545.0,155.5" stroke="#A07A1A" stroke-width="4.3"/>
<path d="M403.9,159.0C404.7,158.2 407.4,155.5 408.8,154.1C410.2,152.7 411.2,151.0 412.0,150.3C412.8,149.6 412.6,149.5 413.4,149.7C414.2,149.9 415.2,151.0 417.0,151.7C418.8,152.4 421.5,153.8 424.0,154.0C426.5,154.2 429.0,153.4 432.0,153.0C435.0,152.6 439.1,152.0 441.8,151.5C444.5,151.0 446.3,150.6 448.0,150.0C449.7,149.4 451.3,148.3 452.0,148.0" stroke="#A07A1A" stroke-width="4.3"/>
<path d="M57.0,119.5C61.7,119.5 77.8,119.0 85.0,119.8C92.2,120.6 95.0,122.5 100.0,124.2C105.0,125.9 110.0,128.2 115.0,129.8C120.0,131.4 125.8,133.5 130.0,134.0C134.2,134.5 137.3,134.3 140.0,133.0C142.7,131.7 144.3,128.4 146.0,126.0C147.7,123.6 149.1,118.5 150.4,118.5C151.7,118.5 152.7,123.8 154.0,126.0C155.3,128.2 156.5,130.0 158.0,131.5C159.5,133.0 161.5,134.0 162.8,135.0C164.1,136.0 164.9,136.7 166.0,137.5C167.1,138.3 168.2,139.1 169.3,140.0C170.4,140.9 171.5,141.9 172.6,142.8C173.7,143.7 174.8,144.6 176.0,145.5C177.2,146.4 176.0,146.2 180.0,148.0C184.0,149.8 192.5,153.4 200.0,156.0C207.5,158.6 216.7,161.4 225.0,163.5C233.3,165.6 242.5,167.3 250.0,168.5C257.5,169.7 263.3,170.0 270.0,170.5C276.7,171.0 283.2,171.4 290.0,171.6C296.8,171.8 307.1,171.8 310.5,171.9M311.5,150.0C312.1,149.3 313.6,146.9 315.0,146.0C316.4,145.1 318.2,144.5 320.0,144.5C321.8,144.5 323.7,145.2 326.0,146.0C328.3,146.8 331.3,147.8 334.0,149.3C336.7,150.8 339.3,153.2 342.0,155.0C344.7,156.8 346.7,158.7 350.0,160.0C353.3,161.3 357.8,162.3 362.0,163.0C366.2,163.7 371.2,162.8 375.0,164.0C378.8,165.2 382.0,168.8 385.0,170.0C388.0,171.2 390.3,171.0 393.0,171.0C395.7,171.0 398.9,170.5 401.0,169.8C403.1,169.1 404.1,168.0 405.5,167.0C406.9,166.0 408.3,164.8 409.6,164.0C410.9,163.2 412.2,161.8 413.4,162.0C414.6,162.2 415.2,163.8 417.0,165.0C418.8,166.2 421.5,168.4 424.0,169.0C426.5,169.6 429.0,169.0 432.0,168.5C435.0,168.0 439.1,166.9 441.8,166.0C444.5,165.1 446.3,164.2 448.0,163.0C449.7,161.8 451.3,159.7 452.0,159.0M453.2,155.0C453.5,154.2 454.3,153.5 455.0,150.0C455.7,146.5 456.6,138.1 457.5,134.0C458.4,129.9 459.6,127.5 460.5,125.5C461.4,123.5 462.3,122.2 463.0,122.0C463.7,121.8 464.1,122.8 464.6,124.5C465.1,126.2 465.6,126.9 466.0,132.0C466.4,137.1 466.8,151.2 467.0,155.0M467.6,158.0C468.0,158.6 469.1,160.3 470.0,161.5C470.9,162.7 471.8,164.0 473.0,165.0C474.2,166.0 475.4,166.9 477.0,167.5C478.6,168.1 481.6,168.5 482.5,168.7M484.0,169.0C485.2,169.3 488.8,170.5 491.4,171.0C494.0,171.5 496.3,171.5 499.6,171.8C502.9,172.1 508.8,172.6 511.0,172.8C513.0,173.0 512.7,173.0 513.0,173.0M514.5,119.0C515.2,118.6 517.4,117.2 519.0,116.7C520.6,116.2 522.3,116.1 524.0,116.2C525.7,116.3 527.5,116.9 529.0,117.5C530.5,118.1 531.7,118.9 533.0,120.0C534.3,121.1 536.3,123.3 537.0,124.0M539.5,171.5L545.0,170.5" stroke="#22609A" stroke-width="3.9"/>
<path d="M310.5,171.9 L311.5,150.0M452.0,159.0 L453.2,155.0M467.0,155.0 L467.6,158.0M482.5,168.7 L484.0,169.0M513.0,173.0 L514.5,119.0M537.0,124.0 L539.5,171.5" stroke="#22609A" stroke-width="2.8"/>
<circle cx="513.4" cy="159.5" r="2.2" fill="#22609A" stroke="none"/>
<circle cx="513.8" cy="146.0" r="2.2" fill="#22609A" stroke="none"/>
<circle cx="514.1" cy="132.5" r="2.2" fill="#22609A" stroke="none"/>
<circle cx="537.6" cy="135.9" r="2.2" fill="#22609A" stroke="none"/>
<circle cx="538.2" cy="147.8" r="2.2" fill="#22609A" stroke="none"/>
<circle cx="538.9" cy="159.6" r="2.2" fill="#22609A" stroke="none"/>
<path d="M484.0,169.0C485.2,169.3 488.8,170.5 491.4,171.0C494.0,171.5 496.3,171.5 499.6,171.8C502.9,172.1 508.8,172.6 511.0,172.8C513.0,173.0 512.7,173.0 513.0,173.0" stroke="#22609A" stroke-width="4.4"/>
<path d="M514.5,119.0C515.2,118.6 517.4,117.2 519.0,116.7C520.6,116.2 522.3,116.1 524.0,116.2C525.7,116.3 527.5,116.9 529.0,117.5C530.5,118.1 531.7,118.9 533.0,120.0C534.3,121.1 536.3,123.3 537.0,124.0" stroke="#22609A" stroke-width="4.3"/>
<path d="M539.5,171.5L545.0,170.5" stroke="#22609A" stroke-width="4.3"/>
<path d="M401.0,169.8C401.8,169.3 404.1,168.0 405.5,167.0C406.9,166.0 408.3,164.8 409.6,164.0C410.9,163.2 412.2,161.8 413.4,162.0C414.6,162.2 415.2,163.8 417.0,165.0C418.8,166.2 421.5,168.4 424.0,169.0C426.5,169.6 429.0,169.0 432.0,168.5C435.0,168.0 439.1,166.9 441.8,166.0C444.5,165.1 446.3,164.2 448.0,163.0C449.7,161.8 451.3,159.7 452.0,159.0" stroke="#22609A" stroke-width="4.3"/>
<path d="M57.0,133.4C61.7,133.4 79.2,133.2 85.0,133.6C90.8,133.9 90.2,134.8 92.0,135.5C93.8,136.2 94.7,137.3 96.0,138.0C97.3,138.7 98.6,139.1 100.0,139.8C101.4,140.6 103.0,141.7 104.3,142.5C105.6,143.3 106.6,143.8 108.0,144.5C109.4,145.2 110.5,145.6 112.5,146.6C114.5,147.6 117.1,149.2 120.0,150.3C122.9,151.4 127.2,152.6 130.0,153.3C132.8,154.0 134.5,154.9 137.0,154.3C139.5,153.7 142.8,152.6 145.0,149.5C147.2,146.4 148.7,136.1 150.4,135.6C152.1,135.1 153.1,142.8 155.0,146.5C156.9,150.2 159.2,154.4 162.0,158.0C164.8,161.6 167.2,165.2 172.0,168.0C176.8,170.8 184.4,173.0 190.5,174.5C196.6,176.0 202.5,176.2 208.6,177.0C214.7,177.8 220.1,178.9 227.0,179.5C233.9,180.1 241.2,180.4 250.0,180.7C258.8,180.9 270.7,180.9 280.0,181.0C289.3,181.1 300.9,181.0 306.0,181.0C310.5,181.0 309.8,181.0 310.5,181.0M311.5,165.5C312.3,165.8 314.1,166.3 316.4,167.0C318.6,167.7 322.3,168.6 325.0,169.5C327.7,170.4 330.3,171.4 332.8,172.5C335.3,173.6 337.8,174.9 340.0,176.0C342.2,177.1 342.7,178.3 346.0,179.0C349.3,179.7 355.2,180.1 360.0,180.3C364.8,180.5 370.8,180.1 375.0,180.0C379.2,179.9 382.0,180.3 385.0,179.6C388.0,178.9 390.9,177.1 393.2,176.0C395.5,174.9 397.2,174.4 399.0,173.2C400.8,172.0 402.7,170.7 404.0,169.0C405.3,167.3 406.1,165.2 407.0,163.0C407.9,160.8 408.5,158.3 409.6,156.0C410.7,153.7 412.2,149.9 413.4,149.0C414.6,148.1 415.2,150.2 417.0,150.5C418.8,150.8 421.5,151.2 424.0,151.0C426.5,150.8 429.0,150.0 432.0,149.5C435.0,149.0 439.1,148.5 441.8,148.0C444.5,147.5 446.3,147.0 448.0,146.5C449.7,146.0 451.3,145.2 452.0,145.0M453.2,141.0C453.5,139.9 454.3,138.2 455.0,134.5C455.7,130.8 456.6,122.6 457.5,118.5C458.4,114.4 459.6,112.0 460.5,110.0C461.4,108.0 462.3,106.7 463.0,106.5C463.7,106.3 464.1,107.3 464.6,109.0C465.1,110.7 465.6,110.1 466.0,116.5C466.4,122.9 466.8,142.3 467.0,147.5M467.6,150.5C468.0,151.1 469.1,152.8 470.0,154.0C470.9,155.2 471.8,156.5 473.0,157.5C474.2,158.5 475.4,159.4 477.0,160.0C478.6,160.6 481.6,161.0 482.5,161.2M484.0,161.5C485.2,162.0 488.8,163.7 491.4,164.3C494.0,164.9 496.3,165.0 499.6,165.3C502.9,165.6 508.8,165.9 511.0,166.0C513.0,166.1 512.7,166.1 513.0,166.1M514.5,125.8C515.2,125.5 517.4,124.4 519.0,124.0C520.6,123.6 522.3,123.5 524.0,123.6C525.7,123.7 527.5,124.1 529.0,124.8C530.5,125.5 531.7,126.4 533.0,127.5C534.3,128.6 536.3,130.8 537.0,131.5M539.5,165.0L545.0,164.0" stroke="#4B7A32" stroke-width="3.9"/>
<path d="M310.5,181.0 L311.5,165.5M452.0,145.0 L453.2,141.0M467.0,147.5 L467.6,150.5M482.5,161.2 L484.0,161.5M513.0,166.1 L514.5,125.8M537.0,131.5 L539.5,165.0" stroke="#4B7A32" stroke-width="2.8"/>
<circle cx="513.5" cy="152.7" r="2.2" fill="#4B7A32" stroke="none"/>
<circle cx="514.0" cy="139.2" r="2.2" fill="#4B7A32" stroke="none"/>
<circle cx="537.8" cy="142.7" r="2.2" fill="#4B7A32" stroke="none"/>
<circle cx="538.7" cy="153.8" r="2.2" fill="#4B7A32" stroke="none"/>
<path d="M484.0,161.5C485.2,162.0 488.8,163.7 491.4,164.3C494.0,164.9 496.3,165.0 499.6,165.3C502.9,165.6 508.8,165.9 511.0,166.0C513.0,166.1 512.7,166.1 513.0,166.1" stroke="#4B7A32" stroke-width="4.4"/>
<path d="M514.5,125.8C515.2,125.5 517.4,124.4 519.0,124.0C520.6,123.6 522.3,123.5 524.0,123.6C525.7,123.7 527.5,124.1 529.0,124.8C530.5,125.5 531.7,126.4 533.0,127.5C534.3,128.6 536.3,130.8 537.0,131.5" stroke="#4B7A32" stroke-width="4.3"/>
<path d="M539.5,165.0L545.0,164.0" stroke="#4B7A32" stroke-width="4.3"/>
<path d="M399.0,173.2C399.8,172.5 402.7,170.7 404.0,169.0C405.3,167.3 406.1,165.2 407.0,163.0C407.9,160.8 408.5,158.3 409.6,156.0C410.7,153.7 412.2,149.9 413.4,149.0C414.6,148.1 415.2,150.2 417.0,150.5C418.8,150.8 421.5,151.2 424.0,151.0C426.5,150.8 429.0,150.0 432.0,149.5C435.0,149.0 439.1,148.5 441.8,148.0C444.5,147.5 446.3,147.0 448.0,146.5C449.7,146.0 451.3,145.2 452.0,145.0" stroke="#4B7A32" stroke-width="4.3"/>
<path d="M413.4,149.0C414.0,149.2 415.2,150.2 417.0,150.5C418.8,150.8 421.5,151.2 424.0,151.0C426.5,150.8 429.0,150.0 432.0,149.5C435.0,149.0 439.1,148.5 441.8,148.0C444.5,147.5 446.3,147.0 448.0,146.5C449.7,146.0 451.3,145.2 452.0,145.0" stroke="#4B7A32" stroke-width="4.8"/>
<linearGradient id="g_X" gradientUnits="userSpaceOnUse" x1="178.0" y1="0" x2="212.0" y2="0"><stop offset="0" stop-color="#2474B9"/><stop offset="1" stop-color="#4A8FD6"/></linearGradient>
<path d="M172.0,181.8C173.5,181.5 176.4,180.8 181.0,180.0C185.6,179.2 193.8,177.6 199.5,177.0C205.2,176.4 210.8,176.2 215.0,176.5C219.2,176.8 221.7,178.1 225.0,179.0C228.3,179.9 230.8,181.1 235.0,181.8C239.2,182.6 244.2,183.2 250.0,183.5C255.8,183.8 263.3,183.8 270.0,183.9C276.7,184.0 284.0,184.0 290.0,184.0C296.0,184.0 302.6,184.0 306.0,184.0C309.4,184.0 309.8,184.0 310.5,184.0M311.5,183.5C312.9,183.5 316.9,183.6 320.0,183.5C323.1,183.4 326.0,183.3 330.0,183.0C334.0,182.7 340.5,181.7 344.0,181.5C347.5,181.3 348.8,181.6 351.0,181.8C353.2,182.0 354.9,182.8 357.3,182.7C359.7,182.6 362.8,181.2 365.5,181.3C368.2,181.4 371.0,183.0 373.7,183.5C376.4,184.0 379.2,184.3 381.9,184.3C384.6,184.3 387.6,183.9 390.0,183.5C392.4,183.1 394.2,182.6 396.0,182.0C397.8,181.4 399.3,181.0 401.0,180.0C402.7,179.0 404.5,177.8 406.0,176.0C407.5,174.2 408.7,170.8 410.0,169.0C411.3,167.2 412.1,165.1 413.7,165.0C415.3,164.9 417.3,167.3 419.4,168.3C421.4,169.3 423.9,170.6 426.0,171.2C428.1,171.8 429.4,172.2 432.0,171.9C434.6,171.7 439.1,170.6 441.8,169.7C444.5,168.8 446.3,167.9 448.0,166.7C449.7,165.4 451.3,162.9 452.0,162.2M453.2,158.2C453.5,155.4 454.3,146.9 455.0,141.5C455.7,136.1 456.6,129.6 457.5,125.5C458.4,121.4 459.6,119.0 460.5,117.0C461.4,115.0 462.3,113.7 463.0,113.5C463.7,113.3 464.1,114.3 464.6,116.0C465.1,117.7 465.6,116.7 466.0,123.5C466.4,130.3 466.8,151.1 467.0,156.6M467.6,159.6C468.0,160.2 469.1,161.9 470.0,163.1C470.9,164.3 471.8,165.6 473.0,166.6C474.2,167.6 475.4,168.5 477.0,169.1C478.6,169.7 481.6,170.1 482.5,170.3M484.0,170.6C485.2,170.9 488.8,172.1 491.4,172.6C494.0,173.1 496.3,173.1 499.6,173.5C502.9,173.9 508.8,174.7 511.0,175.0C513.0,175.3 512.7,175.2 513.0,175.2M514.5,120.5C515.2,120.2 517.4,118.9 519.0,118.5C520.6,118.1 522.3,117.9 524.0,118.0C525.7,118.1 527.5,118.6 529.0,119.3C530.5,120.0 531.7,120.9 533.0,122.0C534.3,123.1 536.3,125.3 537.0,126.0M539.5,173.5L545.0,172.5" stroke="url(#g_X)" stroke-width="3.9"/>
<path d="M310.5,184.0 L311.5,183.5M452.0,162.2 L453.2,158.2M467.0,156.6 L467.6,159.6M482.5,170.3 L484.0,170.6M513.0,175.2 L514.5,120.5M537.0,126.0 L539.5,173.5" stroke="#4A8FD6" stroke-width="2.8"/>
<circle cx="513.4" cy="161.5" r="2.2" fill="#4A8FD6" stroke="none"/>
<circle cx="513.8" cy="147.8" r="2.2" fill="#4A8FD6" stroke="none"/>
<circle cx="514.1" cy="134.2" r="2.2" fill="#4A8FD6" stroke="none"/>
<circle cx="537.6" cy="137.9" r="2.2" fill="#4A8FD6" stroke="none"/>
<circle cx="538.2" cy="149.8" r="2.2" fill="#4A8FD6" stroke="none"/>
<circle cx="538.9" cy="161.6" r="2.2" fill="#4A8FD6" stroke="none"/>
<path d="M484.0,170.6C485.2,170.9 488.8,172.1 491.4,172.6C494.0,173.1 496.3,173.1 499.6,173.5C502.9,173.9 508.8,174.7 511.0,175.0C513.0,175.3 512.7,175.2 513.0,175.2" stroke="#4A8FD6" stroke-width="4.4"/>
<path d="M514.5,120.5C515.2,120.2 517.4,118.9 519.0,118.5C520.6,118.1 522.3,117.9 524.0,118.0C525.7,118.1 527.5,118.6 529.0,119.3C530.5,120.0 531.7,120.9 533.0,122.0C534.3,123.1 536.3,125.3 537.0,126.0" stroke="#4A8FD6" stroke-width="4.3"/>
<path d="M539.5,173.5L545.0,172.5" stroke="#4A8FD6" stroke-width="4.3"/>
<path d="M401.0,180.0C401.8,179.3 404.5,177.8 406.0,176.0C407.5,174.2 408.7,170.8 410.0,169.0C411.3,167.2 412.1,165.1 413.7,165.0C415.3,164.9 417.3,167.3 419.4,168.3C421.4,169.3 423.9,170.6 426.0,171.2C428.1,171.8 429.4,172.2 432.0,171.9C434.6,171.7 439.1,170.6 441.8,169.7C444.5,168.8 446.3,167.9 448.0,166.7C449.7,165.4 451.3,162.9 452.0,162.2" stroke="#4A8FD6" stroke-width="4.3"/>
<path d="M453.2,136.5C453.5,140.3 454.3,158.3 455.0,159.5C455.7,160.7 456.6,147.6 457.5,143.5C458.4,139.4 459.6,137.0 460.5,135.0C461.4,133.0 462.3,131.7 463.0,131.5C463.7,131.3 464.1,132.3 464.6,134.0C465.1,135.7 465.6,136.9 466.0,141.5C466.4,146.1 466.8,158.2 467.0,161.5M467.6,136.3C468.0,136.9 469.1,138.6 470.0,139.8C470.9,141.0 471.8,142.3 473.0,143.3C474.2,144.3 475.4,145.2 477.0,145.8C478.6,146.4 481.6,146.8 482.5,147.0M484.0,147.3C484.6,147.6 486.1,148.5 487.3,149.0C488.5,149.5 489.3,150.1 491.4,150.5C493.4,150.9 496.3,151.2 499.6,151.5C502.9,151.8 508.8,152.0 511.0,152.2C513.0,152.3 512.7,152.4 513.0,152.4M514.5,140.0C515.1,139.8 516.8,139.0 518.0,138.7C519.2,138.4 520.7,138.3 522.0,138.3C523.3,138.3 524.5,138.3 526.0,138.5C527.5,138.7 529.5,139.1 531.0,139.7C532.5,140.3 533.9,141.3 535.0,142.0C536.1,142.7 537.1,143.7 537.5,144.0M539.5,151.0L545.0,150.0" stroke="#8FC871" stroke-width="3.9"/>
<path d="M467.0,161.5 L467.6,136.3M482.5,147.0 L484.0,147.3M513.0,152.4 L514.5,140.0M537.5,144.0 L539.5,151.0" stroke="#8FC871" stroke-width="2.8"/>
<circle cx="467.3" cy="148.9" r="2.2" fill="#8FC871" stroke="none"/>
<path d="M484.0,147.3C484.6,147.6 486.1,148.5 487.3,149.0C488.5,149.5 489.3,150.1 491.4,150.5C493.4,150.9 496.3,151.2 499.6,151.5C502.9,151.8 508.8,152.0 511.0,152.2C513.0,152.3 512.7,152.4 513.0,152.4" stroke="#8FC871" stroke-width="4.4"/>
<path d="M514.5,140.0C515.1,139.8 516.8,139.0 518.0,138.7C519.2,138.4 520.7,138.3 522.0,138.3C523.3,138.3 524.5,138.3 526.0,138.5C527.5,138.7 529.5,139.1 531.0,139.7C532.5,140.3 533.9,141.3 535.0,142.0C536.1,142.7 537.1,143.7 537.5,144.0" stroke="#8FC871" stroke-width="4.3"/>
<path d="M539.5,151.0L545.0,150.0" stroke="#8FC871" stroke-width="4.3"/>
<path d="M57.0,188.0C61.2,188.1 74.8,187.9 82.0,188.5C89.2,189.1 92.3,190.6 100.0,191.5C107.7,192.4 120.7,193.7 128.0,194.0C135.3,194.3 140.7,194.1 144.0,193.6C147.3,193.1 146.9,192.1 148.0,191.0C149.1,189.9 149.6,187.0 150.4,187.0C151.2,187.0 152.1,189.8 153.0,191.0C153.9,192.2 154.3,194.1 156.0,194.5C157.7,194.9 160.3,194.5 163.0,193.6C165.7,192.7 169.0,190.4 172.0,189.0C175.0,187.6 177.9,186.4 181.0,185.0C184.1,183.6 187.4,182.0 190.5,180.8C193.6,179.6 195.0,179.3 199.5,177.9C204.0,176.5 211.6,174.3 217.7,172.2C223.8,170.1 231.4,167.1 236.0,165.5C240.6,163.9 241.0,164.4 245.0,162.7C249.0,160.9 255.5,157.1 260.0,155.0C264.5,152.9 268.2,151.7 272.0,150.0C275.8,148.3 279.2,146.5 283.0,145.0C286.8,143.5 291.3,142.1 295.0,141.0C298.7,139.9 302.5,138.8 305.0,138.4C307.5,138.0 309.2,138.5 310.0,138.5M311.5,185.0C312.3,185.3 314.1,186.5 316.4,186.8C318.6,187.1 322.6,187.4 325.0,186.8C327.4,186.2 328.8,185.2 330.6,183.5C332.4,181.8 334.4,178.7 336.0,176.4C337.6,174.1 339.1,171.6 340.4,169.8C341.7,168.0 342.4,167.3 343.7,165.5C345.0,163.7 346.4,160.6 348.0,159.0C349.6,157.4 351.3,156.2 353.0,156.0C354.7,155.8 356.2,156.7 358.0,158.0C359.8,159.3 362.2,162.6 364.0,164.0C365.8,165.4 367.2,166.4 369.0,166.7C370.8,167.0 373.4,167.9 375.0,166.0C376.6,164.1 377.1,159.3 378.4,155.0C379.7,150.7 381.6,143.7 383.0,140.0C384.4,136.3 385.2,135.9 387.0,133.0C388.8,130.1 391.8,125.9 394.0,122.6C396.2,119.3 398.2,115.8 400.0,113.0C401.8,110.2 403.3,108.2 404.6,106.0C405.9,103.8 406.9,101.6 408.0,100.0C409.1,98.4 409.7,97.1 411.0,96.6C412.3,96.1 414.1,96.7 415.6,97.2C417.1,97.7 418.6,98.8 420.0,99.5C421.4,100.2 422.2,101.1 424.0,101.3C425.8,101.5 429.0,101.1 431.0,100.5C433.0,99.9 434.2,98.7 436.0,97.8C437.8,96.9 440.0,95.8 441.8,95.0C443.6,94.2 445.2,93.6 447.0,93.2C448.8,92.8 451.8,92.6 452.7,92.5M453.2,92.5C453.8,94.9 455.4,102.2 456.5,107.0C457.6,111.8 458.7,115.5 460.0,121.0C461.3,126.5 463.1,135.2 464.3,140.0C465.5,144.8 466.6,148.3 467.0,150.0M468.0,90.5C469.2,90.5 472.6,90.3 475.0,90.3C477.4,90.3 481.2,90.5 482.5,90.5M483.6,93.0C483.8,94.2 484.2,98.0 484.5,100.0C484.8,102.0 484.9,103.3 485.5,104.7C486.1,106.1 486.8,107.4 488.0,108.5C489.2,109.6 490.5,110.7 493.0,111.5C495.5,112.3 499.7,112.8 503.0,113.4C506.3,114.1 511.0,115.1 512.6,115.4M515.0,186.2C515.7,185.7 517.5,184.0 519.0,183.2C520.5,182.4 522.6,181.4 523.9,181.2C525.2,181.0 526.0,181.8 527.0,182.2C528.0,182.6 528.5,182.9 529.6,183.6C530.7,184.3 532.5,185.5 533.7,186.5C534.9,187.5 536.3,189.0 537.0,189.8C537.7,190.6 537.8,191.2 538.0,191.5M539.0,120.0C539.3,119.2 540.1,116.7 541.0,115.0C541.9,113.3 543.6,110.8 544.3,109.6C545.0,108.4 544.9,108.3 545.0,108.0" stroke="#F19C63" stroke-width="3.9"/>
<path d="M310.0,138.5 L311.5,185.0M452.7,92.5 L453.2,92.5M467.0,150.0 L468.0,90.5M482.5,90.5 L483.6,93.0M512.6,115.4 L515.0,186.2M538.0,191.5 L539.0,120.0" stroke="#F19C63" stroke-width="2.8"/>
<circle cx="310.4" cy="150.1" r="2.2" fill="#F19C63" stroke="none"/>
<circle cx="310.8" cy="161.8" r="2.2" fill="#F19C63" stroke="none"/>
<circle cx="311.1" cy="173.4" r="2.2" fill="#F19C63" stroke="none"/>
<circle cx="467.2" cy="138.1" r="2.2" fill="#F19C63" stroke="none"/>
<circle cx="467.4" cy="126.2" r="2.2" fill="#F19C63" stroke="none"/>
<circle cx="467.6" cy="114.3" r="2.2" fill="#F19C63" stroke="none"/>
<circle cx="467.8" cy="102.4" r="2.2" fill="#F19C63" stroke="none"/>
<circle cx="513.0" cy="127.2" r="2.2" fill="#F19C63" stroke="none"/>
<circle cx="513.4" cy="139.0" r="2.2" fill="#F19C63" stroke="none"/>
<circle cx="513.8" cy="150.8" r="2.2" fill="#F19C63" stroke="none"/>
<circle cx="514.2" cy="162.6" r="2.2" fill="#F19C63" stroke="none"/>
<circle cx="514.6" cy="174.4" r="2.2" fill="#F19C63" stroke="none"/>
<circle cx="538.2" cy="179.6" r="2.2" fill="#F19C63" stroke="none"/>
<circle cx="538.3" cy="167.7" r="2.2" fill="#F19C63" stroke="none"/>
<circle cx="538.5" cy="155.8" r="2.2" fill="#F19C63" stroke="none"/>
<circle cx="538.7" cy="143.8" r="2.2" fill="#F19C63" stroke="none"/>
<circle cx="538.8" cy="131.9" r="2.2" fill="#F19C63" stroke="none"/>
<path d="M400.0,113.0C400.8,111.8 403.3,108.2 404.6,106.0C405.9,103.8 406.9,101.6 408.0,100.0C409.1,98.4 409.7,97.1 411.0,96.6C412.3,96.1 414.1,96.7 415.6,97.2C417.1,97.7 418.6,98.8 420.0,99.5C421.4,100.2 422.2,101.1 424.0,101.3C425.8,101.5 429.0,101.1 431.0,100.5C433.0,99.9 434.2,98.7 436.0,97.8C437.8,96.9 440.0,95.8 441.8,95.0C443.6,94.2 445.2,93.6 447.0,93.2C448.8,92.8 451.8,92.6 452.7,92.5" stroke="#F19C63" stroke-width="5.2"/>
<path d="M483.6,93.0C483.8,94.2 484.2,98.0 484.5,100.0C484.8,102.0 484.9,103.3 485.5,104.7C486.1,106.1 486.8,107.4 488.0,108.5C489.2,109.6 490.5,110.7 493.0,111.5C495.5,112.3 499.7,112.8 503.0,113.4C506.3,114.1 511.0,115.1 512.6,115.4" stroke="#F19C63" stroke-width="4.4"/>
<path d="M483.6,93.0C483.8,94.2 484.2,98.0 484.5,100.0C484.8,102.0 484.9,103.3 485.5,104.7C486.1,106.1 486.8,107.4 488.0,108.5C489.2,109.6 490.5,110.7 493.0,111.5C495.5,112.3 499.7,112.8 503.0,113.4C506.3,114.1 511.0,115.1 512.6,115.4" stroke="#F19C63" stroke-width="4.4"/>
<path d="M515.0,186.2C515.7,185.7 517.5,184.0 519.0,183.2C520.5,182.4 522.6,181.4 523.9,181.2C525.2,181.0 526.0,181.8 527.0,182.2C528.0,182.6 528.5,182.9 529.6,183.6C530.7,184.3 532.5,185.5 533.7,186.5C534.9,187.5 536.3,189.0 537.0,189.8C537.7,190.6 537.8,191.2 538.0,191.5" stroke="#F19C63" stroke-width="4.3"/>
<path d="M539.0,120.0C539.3,119.2 540.1,116.7 541.0,115.0C541.9,113.3 543.6,110.8 544.3,109.6C545.0,108.4 544.9,108.3 545.0,108.0" stroke="#F19C63" stroke-width="4.3"/>
<path d="M57.0,131.0C62.2,131.0 80.8,130.8 88.0,131.2C95.2,131.6 95.5,132.2 100.0,133.3C104.5,134.4 111.3,136.7 115.0,138.0C118.7,139.3 119.2,140.0 122.0,141.0C124.8,142.0 129.0,143.7 132.0,144.0C135.0,144.3 137.7,143.9 140.0,143.0C142.3,142.1 144.3,140.6 146.0,138.5C147.7,136.4 149.1,130.4 150.4,130.3C151.7,130.2 152.4,135.6 154.0,138.0C155.6,140.4 157.3,142.8 160.0,145.0C162.7,147.2 165.8,149.2 170.0,151.0C174.2,152.8 180.0,154.7 185.0,156.0C190.0,157.3 193.3,158.0 200.0,159.0C206.7,160.0 216.7,161.0 225.0,162.0C233.3,163.0 240.8,164.3 250.0,165.0C259.2,165.7 270.7,165.9 280.0,166.2C289.3,166.4 300.9,166.4 306.0,166.5C310.5,166.6 309.8,166.7 310.5,166.7M311.5,156.0C312.2,155.4 314.6,153.2 316.0,152.5C317.4,151.8 318.2,151.8 320.0,152.0C321.8,152.2 324.8,153.0 327.0,153.5C329.2,154.0 330.8,154.2 333.0,155.0C335.2,155.8 337.2,157.1 340.0,158.0C342.8,158.9 345.8,159.8 350.0,160.5C354.2,161.2 360.8,161.9 365.0,162.5C369.2,163.1 371.7,163.5 375.0,164.0C378.3,164.5 382.0,165.5 385.0,165.5C388.0,165.5 390.5,164.8 393.2,164.0C395.9,163.2 399.3,161.7 401.4,160.7C403.4,159.7 404.1,159.2 405.5,158.2C406.9,157.2 408.2,155.3 409.6,154.5C411.0,153.7 412.1,153.0 413.7,153.3C415.3,153.6 417.3,155.3 419.4,156.1C421.4,156.8 423.9,157.5 426.0,157.8C428.1,158.1 429.4,158.1 432.0,158.0C434.6,157.9 439.1,157.5 441.8,157.0C444.5,156.5 446.3,155.8 448.0,155.0C449.7,154.2 451.3,152.5 452.0,152.0M453.2,148.0C453.5,146.4 454.3,142.8 455.0,138.5C455.7,134.2 456.6,126.6 457.5,122.5C458.4,118.4 459.6,116.0 460.5,114.0C461.4,112.0 462.3,110.7 463.0,110.5C463.7,110.3 464.1,111.3 464.6,113.0C465.1,114.7 465.6,115.3 466.0,120.5C466.4,125.7 466.8,140.3 467.0,144.3M467.6,147.3C468.0,147.9 469.1,149.6 470.0,150.8C470.9,152.0 471.8,153.3 473.0,154.3C474.2,155.3 475.4,156.2 477.0,156.8C478.6,157.4 481.6,157.8 482.5,158.0M484.0,158.3C484.6,158.6 486.1,159.5 487.3,160.0C488.5,160.5 489.3,160.8 491.4,161.2C493.4,161.6 496.3,162.0 499.6,162.3C502.9,162.7 508.8,163.1 511.0,163.3C513.0,163.5 512.7,163.5 513.0,163.5M514.5,129.0C515.1,128.8 516.9,127.8 518.0,127.5C519.1,127.2 519.8,127.0 521.0,127.0C522.2,127.0 523.7,127.1 525.0,127.4C526.3,127.7 527.5,127.9 529.0,128.6C530.5,129.3 532.4,130.4 533.7,131.5C535.0,132.6 536.5,134.4 537.0,135.0M539.5,162.0L545.0,161.0" stroke="#BABABA" stroke-width="3.9"/>
<path d="M310.5,166.7 L311.5,156.0M452.0,152.0 L453.2,148.0M467.0,144.3 L467.6,147.3M482.5,158.0 L484.0,158.3M513.0,163.5 L514.5,129.0M537.0,135.0 L539.5,162.0" stroke="#BABABA" stroke-width="2.8"/>
<circle cx="513.5" cy="152.0" r="2.2" fill="#BABABA" stroke="none"/>
<circle cx="514.0" cy="140.5" r="2.2" fill="#BABABA" stroke="none"/>
<circle cx="538.2" cy="148.5" r="2.2" fill="#BABABA" stroke="none"/>
<path d="M484.0,158.3C484.6,158.6 486.1,159.5 487.3,160.0C488.5,160.5 489.3,160.8 491.4,161.2C493.4,161.6 496.3,162.0 499.6,162.3C502.9,162.7 508.8,163.1 511.0,163.3C513.0,163.5 512.7,163.5 513.0,163.5" stroke="#BABABA" stroke-width="4.4"/>
<path d="M514.5,129.0C515.1,128.8 516.9,127.8 518.0,127.5C519.1,127.2 519.8,127.0 521.0,127.0C522.2,127.0 523.7,127.1 525.0,127.4C526.3,127.7 527.5,127.9 529.0,128.6C530.5,129.3 532.4,130.4 533.7,131.5C535.0,132.6 536.5,134.4 537.0,135.0" stroke="#BABABA" stroke-width="4.3"/>
<path d="M539.5,162.0L545.0,161.0" stroke="#BABABA" stroke-width="4.3"/>
<path d="M401.4,160.7C402.1,160.3 404.1,159.2 405.5,158.2C406.9,157.2 408.2,155.3 409.6,154.5C411.0,153.7 412.1,153.0 413.7,153.3C415.3,153.6 417.3,155.3 419.4,156.1C421.4,156.8 423.9,157.5 426.0,157.8C428.1,158.1 429.4,158.1 432.0,158.0C434.6,157.9 439.1,157.5 441.8,157.0C444.5,156.5 446.3,155.8 448.0,155.0C449.7,154.2 451.3,152.5 452.0,152.0" stroke="#BABABA" stroke-width="4.3"/>
<path d="M57.0,123.9C62.2,124.0 80.8,123.6 88.0,124.2C95.2,124.8 95.5,125.8 100.0,127.3C104.5,128.8 110.0,131.7 115.0,133.5C120.0,135.3 125.8,137.4 130.0,138.0C134.2,138.6 137.3,138.4 140.0,137.2C142.7,136.0 144.3,133.4 146.0,131.0C147.7,128.6 149.1,122.8 150.4,122.5C151.7,122.2 152.7,127.3 154.0,129.5C155.3,131.7 156.7,133.9 158.0,135.5C159.3,137.1 160.8,138.2 162.0,139.3C163.2,140.4 164.0,140.9 165.2,142.0C166.4,143.1 167.9,144.7 169.0,145.8C170.1,146.9 169.7,147.4 172.0,148.5C174.3,149.6 179.3,151.4 183.0,152.5C186.7,153.6 188.6,154.1 194.0,155.0C199.4,155.9 208.6,156.6 215.6,158.0C222.6,159.4 230.3,162.0 236.0,163.5C241.7,165.0 244.0,166.1 250.0,167.0C256.0,167.9 265.3,168.3 272.0,168.8C278.7,169.3 284.3,169.6 290.0,169.8C295.7,170.0 302.6,170.1 306.0,170.2C309.4,170.3 309.8,170.4 310.5,170.4M311.5,153.0C312.1,152.3 313.6,150.0 315.0,149.0C316.4,148.0 318.2,147.0 320.0,147.0C321.8,147.0 323.8,147.8 326.0,149.0C328.2,150.2 330.7,152.6 333.0,154.0C335.3,155.4 337.8,156.1 340.0,157.5C342.2,158.9 344.0,161.3 346.0,162.5C348.0,163.7 348.8,164.1 352.0,164.5C355.2,164.9 360.7,164.6 365.0,164.8C369.3,165.0 374.7,164.6 378.0,165.5C381.3,166.4 382.5,169.5 385.0,170.5C387.5,171.5 390.3,171.4 393.0,171.3C395.7,171.2 398.9,170.6 401.0,170.0C403.1,169.4 404.1,168.3 405.5,167.5C406.9,166.7 408.2,165.8 409.6,165.3C411.0,164.8 412.1,164.1 413.7,164.5C415.3,164.9 417.3,166.9 419.4,168.0C421.4,169.1 423.9,170.4 426.0,171.0C428.1,171.6 429.4,171.9 432.0,171.7C434.6,171.4 439.1,170.4 441.8,169.5C444.5,168.6 446.3,167.8 448.0,166.5C449.7,165.2 451.3,162.8 452.0,162.0M453.2,158.0C453.5,156.2 454.3,151.9 455.0,147.5C455.7,143.1 456.6,135.6 457.5,131.5C458.4,127.4 459.6,125.0 460.5,123.0C461.4,121.0 462.3,119.7 463.0,119.5C463.7,119.3 464.1,120.3 464.6,122.0C465.1,123.7 465.6,124.4 466.0,129.5C466.4,134.6 466.8,148.9 467.0,152.8M467.6,155.8C468.0,156.4 469.1,158.1 470.0,159.3C470.9,160.5 471.8,161.8 473.0,162.8C474.2,163.8 475.4,164.7 477.0,165.3C478.6,165.9 481.6,166.3 482.5,166.5M484.0,166.8C485.2,167.1 488.8,168.3 491.4,168.8C494.0,169.3 496.3,169.5 499.6,169.8C502.9,170.1 508.8,170.4 511.0,170.6C513.0,170.8 512.7,170.7 513.0,170.7M514.5,122.5C515.2,122.2 517.4,120.9 519.0,120.5C520.6,120.1 522.3,119.9 524.0,120.0C525.7,120.1 527.5,120.6 529.0,121.3C530.5,122.0 531.7,122.9 533.0,124.0C534.3,125.1 536.3,127.3 537.0,128.0M539.5,169.8L545.0,169.0" stroke="#FDD04A" stroke-width="3.9"/>
<path d="M310.5,170.4 L311.5,153.0M452.0,162.0 L453.2,158.0M467.0,152.8 L467.6,155.8M482.5,166.5 L484.0,166.8M513.0,170.7 L514.5,122.5M537.0,128.0 L539.5,169.8" stroke="#FDD04A" stroke-width="2.8"/>
<circle cx="513.4" cy="158.6" r="2.2" fill="#FDD04A" stroke="none"/>
<circle cx="513.8" cy="146.6" r="2.2" fill="#FDD04A" stroke="none"/>
<circle cx="514.1" cy="134.6" r="2.2" fill="#FDD04A" stroke="none"/>
<circle cx="537.8" cy="141.9" r="2.2" fill="#FDD04A" stroke="none"/>
<circle cx="538.7" cy="155.9" r="2.2" fill="#FDD04A" stroke="none"/>
<path d="M484.0,166.8C485.2,167.1 488.8,168.3 491.4,168.8C494.0,169.3 496.3,169.5 499.6,169.8C502.9,170.1 508.8,170.4 511.0,170.6C513.0,170.8 512.7,170.7 513.0,170.7" stroke="#FDD04A" stroke-width="4.4"/>
<path d="M514.5,122.5C515.2,122.2 517.4,120.9 519.0,120.5C520.6,120.1 522.3,119.9 524.0,120.0C525.7,120.1 527.5,120.6 529.0,121.3C530.5,122.0 531.7,122.9 533.0,124.0C534.3,125.1 536.3,127.3 537.0,128.0" stroke="#FDD04A" stroke-width="4.3"/>
<path d="M539.5,169.8L545.0,169.0" stroke="#FDD04A" stroke-width="4.3"/>
<path d="M401.0,170.0C401.8,169.6 404.1,168.3 405.5,167.5C406.9,166.7 408.2,165.8 409.6,165.3C411.0,164.8 412.1,164.1 413.7,164.5C415.3,164.9 417.3,166.9 419.4,168.0C421.4,169.1 423.9,170.4 426.0,171.0C428.1,171.6 429.4,171.9 432.0,171.7C434.6,171.4 439.1,170.4 441.8,169.5C444.5,168.6 446.3,167.8 448.0,166.5C449.7,165.2 451.3,162.8 452.0,162.0" stroke="#FDD04A" stroke-width="4.3"/>
<path d="M57.0,170.0C62.7,170.0 82.2,169.6 91.0,170.0C99.8,170.4 102.3,172.1 110.0,172.7C117.7,173.3 131.0,173.9 137.0,173.6C143.0,173.3 143.8,171.9 146.0,171.0C148.2,170.1 149.1,167.8 150.4,168.0C151.7,168.2 152.4,171.1 154.0,172.0C155.6,172.9 155.5,173.6 160.0,173.6C164.5,173.6 174.4,172.9 181.0,171.8C187.6,170.8 193.4,168.7 199.5,167.3C205.6,165.9 211.6,165.1 217.7,163.6C223.8,162.1 230.6,160.1 236.0,158.5C241.4,156.9 246.8,155.0 250.0,154.0C253.2,153.0 252.5,153.2 255.0,152.6C257.5,152.0 261.6,151.2 265.0,150.5C268.4,149.8 271.3,149.3 275.5,148.5C279.7,147.7 285.9,146.5 290.0,145.8C294.1,145.1 297.5,144.6 300.0,144.2C302.5,143.8 303.3,143.5 305.0,143.6C306.7,143.7 309.2,144.8 310.0,145.0M311.5,165.0C312.6,165.2 315.6,165.5 318.0,166.0C320.4,166.5 323.3,167.5 326.0,168.0C328.7,168.5 331.8,169.4 334.0,169.0C336.2,168.6 337.3,167.2 339.0,165.5C340.7,163.8 342.3,160.8 344.0,159.0C345.7,157.2 347.5,155.5 349.0,154.5C350.5,153.5 351.9,153.1 353.2,152.9C354.5,152.7 355.6,153.2 357.0,153.5C358.4,153.8 360.1,154.5 361.4,155.0C362.7,155.5 363.6,156.1 365.0,156.5C366.4,156.9 368.1,157.3 369.6,157.4C371.1,157.5 372.6,157.2 374.0,157.0C375.4,156.8 376.8,156.5 377.8,156.1C378.8,155.7 379.3,155.1 380.0,154.5C380.7,153.9 381.2,153.7 381.9,152.5C382.6,151.3 383.1,149.6 384.0,147.5C384.9,145.4 385.3,142.8 387.0,140.0C388.7,137.2 391.8,133.4 394.0,131.0C396.2,128.6 398.2,127.1 400.0,125.5C401.8,123.9 403.1,122.8 404.6,121.5C406.1,120.2 407.6,118.9 409.0,118.0C410.4,117.1 411.5,116.0 413.0,116.0C414.5,116.0 416.2,117.3 418.0,118.0C419.8,118.7 421.7,119.8 424.0,120.0C426.3,120.2 429.2,119.7 432.0,119.0C434.8,118.3 438.5,116.8 441.0,116.0C443.5,115.2 445.1,115.0 447.0,114.5C448.9,114.0 451.8,113.1 452.7,112.8M453.5,114.0C454.0,115.8 455.4,121.8 456.5,124.5C457.6,127.2 459.1,128.4 460.4,130.4C461.7,132.4 463.2,134.7 464.3,136.3C465.4,137.9 466.6,139.4 467.0,140.0M468.0,114.3C469.2,114.3 472.6,114.0 475.0,114.2C477.4,114.4 481.2,115.0 482.5,115.2M483.6,117.0C484.2,118.0 485.9,121.6 487.3,123.0C488.7,124.4 489.9,124.8 492.0,125.5C494.1,126.2 496.7,126.8 499.6,127.3C502.5,127.8 507.2,128.5 509.4,128.8C511.6,129.1 512.4,129.2 513.0,129.3M515.0,166.8C515.7,166.4 517.5,165.1 519.0,164.5C520.5,163.9 522.4,163.1 523.9,163.0C525.4,162.9 526.6,163.5 528.0,164.0C529.4,164.5 530.8,165.2 532.0,165.9C533.2,166.6 534.1,167.2 535.0,168.0C535.9,168.8 537.1,170.1 537.5,170.5M539.5,138.0L545.0,130.0" stroke="#74B4E4" stroke-width="3.9"/>
<path d="M310.0,145.0 L311.5,165.0M452.7,112.8 L453.5,114.0M467.0,140.0 L468.0,114.3M482.5,115.2 L483.6,117.0M513.0,129.3 L515.0,166.8M537.5,170.5 L539.5,138.0" stroke="#74B4E4" stroke-width="2.8"/>
<circle cx="467.5" cy="127.2" r="2.2" fill="#74B4E4" stroke="none"/>
<circle cx="513.7" cy="141.8" r="2.2" fill="#74B4E4" stroke="none"/>
<circle cx="514.3" cy="154.3" r="2.2" fill="#74B4E4" stroke="none"/>
<circle cx="538.2" cy="159.7" r="2.2" fill="#74B4E4" stroke="none"/>
<circle cx="538.8" cy="148.8" r="2.2" fill="#74B4E4" stroke="none"/>
<path d="M400.0,125.5C400.8,124.8 403.1,122.8 404.6,121.5C406.1,120.2 407.6,118.9 409.0,118.0C410.4,117.1 411.5,116.0 413.0,116.0C414.5,116.0 416.2,117.3 418.0,118.0C419.8,118.7 421.7,119.8 424.0,120.0C426.3,120.2 429.2,119.7 432.0,119.0C434.8,118.3 438.5,116.8 441.0,116.0C443.5,115.2 445.1,115.0 447.0,114.5C448.9,114.0 451.8,113.1 452.7,112.8" stroke="#74B4E4" stroke-width="4.2"/>
<path d="M483.6,117.0C484.2,118.0 485.9,121.6 487.3,123.0C488.7,124.4 489.9,124.8 492.0,125.5C494.1,126.2 496.7,126.8 499.6,127.3C502.5,127.8 507.2,128.5 509.4,128.8C511.6,129.1 512.4,129.2 513.0,129.3" stroke="#74B4E4" stroke-width="4.4"/>
<path d="M515.0,166.8C515.7,166.4 517.5,165.1 519.0,164.5C520.5,163.9 522.4,163.1 523.9,163.0C525.4,162.9 526.6,163.5 528.0,164.0C529.4,164.5 530.8,165.2 532.0,165.9C533.2,166.6 534.1,167.2 535.0,168.0C535.9,168.8 537.1,170.1 537.5,170.5" stroke="#74B4E4" stroke-width="4.3"/>
<path d="M539.5,138.0L545.0,130.0" stroke="#74B4E4" stroke-width="4.3"/>
<path d="M468.0,114.3C469.2,114.3 472.6,114.0 475.0,114.2C477.4,114.4 481.2,115.0 482.5,115.2" stroke="#74B4E4" stroke-width="4.6"/>
<path d="M57.0,164.5C61.2,164.5 74.8,163.6 82.0,164.5C89.2,165.4 94.4,168.0 100.5,170.0C106.6,172.0 113.2,174.9 118.6,176.4C124.0,177.9 128.8,179.2 133.0,179.0C137.2,178.8 141.5,176.7 144.0,175.5C146.5,174.3 146.9,172.9 148.0,172.0C149.1,171.1 149.6,169.7 150.4,170.0C151.2,170.3 151.9,172.5 153.0,174.0C154.1,175.5 155.3,177.8 157.0,179.0C158.7,180.2 160.5,181.0 163.0,181.5C165.5,182.0 169.0,182.1 172.0,181.8C175.0,181.6 179.5,180.3 181.0,180.0" stroke="#2474B9" stroke-width="3.9"/>
<path d="M236.0,148.8C238.0,148.4 244.8,147.0 248.0,146.3C251.2,145.6 251.3,145.3 255.0,144.6C258.7,143.9 265.3,142.8 270.0,142.0C274.7,141.2 278.0,140.7 283.0,140.0C288.0,139.3 296.0,138.1 300.0,137.8C304.0,137.5 305.3,137.6 307.0,138.0C308.7,138.4 309.5,139.7 310.0,140.0M311.5,158.0C312.9,158.1 316.9,158.4 320.0,158.5C323.1,158.6 327.3,158.7 330.0,158.5C332.7,158.3 334.5,158.2 336.0,157.5C337.5,156.8 338.1,155.3 339.0,154.0C339.9,152.7 340.4,150.9 341.4,149.8C342.4,148.7 343.3,148.1 345.0,147.3C346.7,146.5 349.5,145.1 351.5,144.8C353.5,144.6 355.1,145.4 357.0,145.8C358.9,146.2 360.8,146.8 363.0,147.2C365.2,147.6 368.1,148.6 370.5,148.5C372.9,148.4 375.3,148.2 377.7,146.4C380.1,144.6 382.3,141.0 385.0,137.8C387.7,134.6 391.5,130.1 394.0,127.0C396.5,123.9 398.2,121.4 400.0,119.0C401.8,116.6 403.1,114.8 404.6,112.8C406.1,110.8 407.6,108.5 409.0,107.0C410.4,105.5 411.5,104.1 413.0,104.0C414.5,103.9 416.2,105.6 418.0,106.5C419.8,107.4 421.8,109.2 424.0,109.5C426.2,109.8 428.8,109.0 431.0,108.3C433.2,107.5 435.2,106.0 437.0,105.0C438.8,104.0 440.1,103.4 441.8,102.3C443.5,101.2 445.2,99.7 447.0,98.5C448.8,97.3 451.8,95.6 452.7,95.0M453.5,95.0C454.0,96.5 455.4,100.3 456.5,104.0C457.6,107.7 458.8,114.0 459.8,117.0C460.8,120.0 461.4,119.3 462.4,122.0C463.4,124.7 464.8,130.5 465.6,133.0C466.4,135.5 466.8,136.3 467.0,137.0M468.0,93.5C468.1,96.2 468.5,110.0 468.8,110.0C469.1,110.0 469.3,93.5 469.6,93.5C469.9,93.5 470.1,110.0 470.4,110.0C470.7,110.0 470.9,93.5 471.2,93.5C471.5,93.5 471.7,110.0 472.0,110.0C472.3,110.0 472.5,93.5 472.8,93.5C473.1,93.5 473.3,110.0 473.6,110.0C473.9,110.0 474.1,93.5 474.4,93.5C474.7,93.5 474.9,110.0 475.2,110.0C475.5,110.0 475.7,93.5 476.0,93.5C476.3,93.5 476.5,110.0 476.8,110.0C477.1,110.0 477.3,93.5 477.6,93.5C477.9,93.5 478.1,110.0 478.4,110.0C478.7,110.0 478.9,93.5 479.2,93.5C479.5,93.5 479.7,110.0 480.0,110.0C480.3,110.0 480.5,93.5 480.8,93.5C481.1,93.5 481.3,110.0 481.6,110.0C481.9,110.0 482.3,96.2 482.4,93.5M483.6,108.6C484.0,109.6 485.0,112.8 486.0,114.5C487.0,116.2 487.8,117.2 489.4,118.5C491.0,119.8 493.1,121.1 495.5,122.1C497.9,123.1 500.8,123.8 503.7,124.6C506.6,125.4 511.1,126.6 512.6,127.0M515.0,176.5C515.7,176.0 517.5,174.2 519.0,173.3C520.5,172.4 522.6,171.4 523.9,171.3C525.2,171.2 526.0,172.0 527.0,172.5C528.0,173.0 528.6,173.5 529.6,174.2C530.6,174.9 532.0,175.9 532.9,176.7C533.8,177.5 534.2,177.9 535.0,179.0C535.8,180.1 537.1,182.3 537.5,183.0M539.5,135.0C539.9,134.5 541.1,134.8 542.0,132.0C542.9,129.2 544.5,120.3 545.0,118.0" stroke="#3B90D4" stroke-width="3.9"/>
<path d="M310.0,140.0 L311.5,158.0M452.7,95.0 L453.5,95.0M467.0,137.0 L468.0,93.5M482.4,93.5 L483.6,108.6M512.6,127.0 L515.0,176.5M537.5,183.0 L539.5,135.0" stroke="#2474B9" stroke-width="2.8"/>
<circle cx="467.2" cy="126.1" r="2.2" fill="#2474B9" stroke="none"/>
<circle cx="467.5" cy="115.2" r="2.2" fill="#2474B9" stroke="none"/>
<circle cx="467.8" cy="104.4" r="2.2" fill="#2474B9" stroke="none"/>
<circle cx="513.2" cy="139.4" r="2.2" fill="#2474B9" stroke="none"/>
<circle cx="513.8" cy="151.8" r="2.2" fill="#2474B9" stroke="none"/>
<circle cx="514.4" cy="164.1" r="2.2" fill="#2474B9" stroke="none"/>
<circle cx="538.0" cy="171.0" r="2.2" fill="#2474B9" stroke="none"/>
<circle cx="538.5" cy="159.0" r="2.2" fill="#2474B9" stroke="none"/>
<circle cx="539.0" cy="147.0" r="2.2" fill="#2474B9" stroke="none"/>
<path d="M311.5,158.0C312.9,158.1 316.9,158.4 320.0,158.5C323.1,158.6 327.3,158.7 330.0,158.5C332.7,158.3 334.5,158.2 336.0,157.5C337.5,156.8 338.1,155.3 339.0,154.0C339.9,152.7 340.4,150.9 341.4,149.8C342.4,148.7 343.3,148.1 345.0,147.3C346.7,146.5 349.5,145.1 351.5,144.8C353.5,144.6 355.1,145.4 357.0,145.8C358.9,146.2 360.8,146.8 363.0,147.2C365.2,147.6 368.1,148.6 370.5,148.5C372.9,148.4 375.3,148.2 377.7,146.4C380.1,144.6 382.3,141.0 385.0,137.8C387.7,134.6 391.5,130.1 394.0,127.0C396.5,123.9 398.2,121.4 400.0,119.0C401.8,116.6 403.1,114.8 404.6,112.8C406.1,110.8 407.6,108.5 409.0,107.0C410.4,105.5 411.5,104.1 413.0,104.0C414.5,103.9 416.2,105.6 418.0,106.5C419.8,107.4 421.8,109.2 424.0,109.5C426.2,109.8 428.8,109.0 431.0,108.3C433.2,107.5 435.2,106.0 437.0,105.0C438.8,104.0 440.1,103.4 441.8,102.3C443.5,101.2 445.2,99.7 447.0,98.5C448.8,97.3 451.8,95.6 452.7,95.0" stroke="#2474B9" stroke-width="3.7"/>
<path d="M453.5,95.0C454.0,96.5 455.4,100.3 456.5,104.0C457.6,107.7 458.8,114.0 459.8,117.0C460.8,120.0 461.4,119.3 462.4,122.0C463.4,124.7 464.8,130.5 465.6,133.0C466.4,135.5 466.8,136.3 467.0,137.0" stroke="#2474B9" stroke-width="3.7"/>
<path d="M468.0,93.5C468.1,96.2 468.5,110.0 468.8,110.0C469.1,110.0 469.3,93.5 469.6,93.5C469.9,93.5 470.1,110.0 470.4,110.0C470.7,110.0 470.9,93.5 471.2,93.5C471.5,93.5 471.7,110.0 472.0,110.0C472.3,110.0 472.5,93.5 472.8,93.5C473.1,93.5 473.3,110.0 473.6,110.0C473.9,110.0 474.1,93.5 474.4,93.5C474.7,93.5 474.9,110.0 475.2,110.0C475.5,110.0 475.7,93.5 476.0,93.5C476.3,93.5 476.5,110.0 476.8,110.0C477.1,110.0 477.3,93.5 477.6,93.5C477.9,93.5 478.1,110.0 478.4,110.0C478.7,110.0 478.9,93.5 479.2,93.5C479.5,93.5 479.7,110.0 480.0,110.0C480.3,110.0 480.5,93.5 480.8,93.5C481.1,93.5 481.3,110.0 481.6,110.0C481.9,110.0 482.3,96.2 482.4,93.5" stroke="#2474B9" stroke-width="3.7"/>
<path d="M483.6,108.6C484.0,109.6 485.0,112.8 486.0,114.5C487.0,116.2 487.8,117.2 489.4,118.5C491.0,119.8 493.1,121.1 495.5,122.1C497.9,123.1 500.8,123.8 503.7,124.6C506.6,125.4 511.1,126.6 512.6,127.0" stroke="#2474B9" stroke-width="3.7"/>
<path d="M515.0,176.5C515.7,176.0 517.5,174.2 519.0,173.3C520.5,172.4 522.6,171.4 523.9,171.3C525.2,171.2 526.0,172.0 527.0,172.5C528.0,173.0 528.6,173.5 529.6,174.2C530.6,174.9 532.0,175.9 532.9,176.7C533.8,177.5 534.2,177.9 535.0,179.0C535.8,180.1 537.1,182.3 537.5,183.0" stroke="#2474B9" stroke-width="3.7"/>
<path d="M539.5,135.0C539.9,134.5 541.1,134.8 542.0,132.0C542.9,129.2 544.5,120.3 545.0,118.0" stroke="#2474B9" stroke-width="3.7"/>
<path d="M400.0,119.0C400.8,118.0 403.1,114.8 404.6,112.8C406.1,110.8 407.6,108.5 409.0,107.0C410.4,105.5 411.5,104.1 413.0,104.0C414.5,103.9 416.2,105.6 418.0,106.5C419.8,107.4 421.8,109.2 424.0,109.5C426.2,109.8 428.8,109.0 431.0,108.3C433.2,107.5 435.2,106.0 437.0,105.0C438.8,104.0 440.1,103.4 441.8,102.3C443.5,101.2 445.2,99.7 447.0,98.5C448.8,97.3 451.8,95.6 452.7,95.0" stroke="#2474B9" stroke-width="5.0"/>
<path d="M483.6,108.6C484.0,109.6 485.0,112.8 486.0,114.5C487.0,116.2 487.8,117.2 489.4,118.5C491.0,119.8 493.1,121.1 495.5,122.1C497.9,123.1 500.8,123.8 503.7,124.6C506.6,125.4 511.1,126.6 512.6,127.0" stroke="#2474B9" stroke-width="4.4"/>
<path d="M483.6,108.6C484.0,109.6 485.0,112.8 486.0,114.5C487.0,116.2 487.8,117.2 489.4,118.5C491.0,119.8 493.1,121.1 495.5,122.1C497.9,123.1 500.8,123.8 503.7,124.6C506.6,125.4 511.1,126.6 512.6,127.0" stroke="#2474B9" stroke-width="4.4"/>
<path d="M515.0,176.5C515.7,176.0 517.5,174.2 519.0,173.3C520.5,172.4 522.6,171.4 523.9,171.3C525.2,171.2 526.0,172.0 527.0,172.5C528.0,173.0 528.6,173.5 529.6,174.2C530.6,174.9 532.0,175.9 532.9,176.7C533.8,177.5 534.2,177.9 535.0,179.0C535.8,180.1 537.1,182.3 537.5,183.0" stroke="#2474B9" stroke-width="4.3"/>
<path d="M539.5,135.0C539.9,134.5 541.1,134.8 542.0,132.0C542.9,129.2 544.5,120.3 545.0,118.0" stroke="#2474B9" stroke-width="4.3"/>
<path d="M57.0,142.3C61.7,142.3 77.8,142.1 85.0,142.5C92.2,142.9 95.0,143.8 100.0,144.5C105.0,145.2 111.7,146.1 115.0,147.0C118.3,147.9 116.7,149.1 120.0,150.0C123.3,150.9 130.8,152.6 135.0,152.5C139.2,152.4 142.4,151.6 145.0,149.5C147.6,147.4 148.7,139.7 150.4,139.7C152.1,139.7 153.1,147.3 155.0,149.5C156.9,151.7 159.2,152.2 162.0,153.0C164.8,153.8 166.7,153.2 172.0,154.0C177.3,154.8 186.7,157.0 194.0,158.0C201.3,159.0 208.4,159.6 215.6,160.0C222.8,160.4 231.3,160.2 237.0,160.5C242.7,160.8 244.5,161.5 250.0,161.5C255.5,161.5 263.3,160.8 270.0,160.5C276.7,160.2 284.2,159.8 290.0,159.5C295.8,159.2 301.6,159.1 305.0,159.0C308.4,158.9 309.6,159.0 310.5,159.0M311.5,158.5C312.9,158.5 316.1,158.5 320.0,158.5C323.9,158.5 330.8,158.2 335.0,158.5C339.2,158.8 341.7,159.6 345.0,160.0C348.3,160.4 351.7,160.6 355.0,160.8C358.3,161.0 361.7,160.9 365.0,161.0C368.3,161.1 372.3,161.4 375.0,161.5C377.7,161.6 379.0,161.8 381.0,161.3C383.0,160.8 384.9,159.3 387.0,158.3C389.1,157.3 391.5,156.3 393.7,155.3C395.9,154.3 398.2,153.2 400.0,152.3C401.8,151.4 403.1,151.0 404.6,150.0C406.1,149.0 407.5,147.5 409.0,146.5C410.5,145.5 412.1,144.0 413.4,143.8C414.7,143.6 415.2,145.1 417.0,145.3C418.8,145.5 421.5,145.2 424.0,145.0C426.5,144.8 429.0,144.4 432.0,144.0C435.0,143.6 439.1,143.0 441.8,142.6C444.5,142.2 446.3,141.9 448.0,141.6C449.7,141.2 451.3,140.7 452.0,140.5" stroke="#8FC871" stroke-width="3.9"/>
<path d="M310.5,159.0 L311.5,158.5" stroke="#8FC871" stroke-width="2.8"/>
<path d="M400.0,152.3C400.8,151.9 403.1,151.0 404.6,150.0C406.1,149.0 407.5,147.5 409.0,146.5C410.5,145.5 412.1,144.0 413.4,143.8C414.7,143.6 415.2,145.1 417.0,145.3C418.8,145.5 421.5,145.2 424.0,145.0C426.5,144.8 429.0,144.4 432.0,144.0C435.0,143.6 439.1,143.0 441.8,142.6C444.5,142.2 446.3,141.9 448.0,141.6C449.7,141.2 451.3,140.7 452.0,140.5" stroke="#8FC871" stroke-width="4.9"/>
<path d="M57.0,180.0C61.2,180.1 74.8,179.8 82.0,180.5C89.2,181.2 94.4,183.1 100.5,184.5C106.6,185.9 113.2,188.1 118.6,189.0C124.0,189.9 128.8,190.5 133.0,190.0C137.2,189.5 141.5,187.5 144.0,186.0C146.5,184.5 146.9,182.5 148.0,181.0C149.1,179.5 149.6,176.8 150.4,177.0C151.2,177.2 152.1,180.0 153.0,182.0C153.9,184.0 154.3,187.2 156.0,189.0C157.7,190.8 160.3,192.1 163.0,192.7C165.7,193.3 169.0,193.2 172.0,192.5C175.0,191.8 178.0,189.7 181.0,188.5C184.0,187.3 186.9,186.5 190.0,185.5C193.1,184.5 194.9,183.6 199.5,182.5C204.1,181.4 212.3,180.0 217.7,178.8C223.1,177.6 228.3,176.6 232.0,175.5C235.7,174.4 237.8,173.0 240.0,172.0C242.2,171.0 243.1,170.3 245.0,169.5C246.9,168.7 249.9,167.6 251.6,167.0C253.3,166.4 253.6,166.3 255.0,165.8C256.4,165.3 257.9,164.7 260.0,164.0C262.1,163.3 264.0,162.5 267.3,161.6C270.6,160.7 275.5,159.4 279.6,158.3C283.7,157.2 288.6,156.2 292.0,155.3C295.4,154.4 297.8,153.2 300.0,152.6C302.2,152.0 303.7,151.6 305.0,151.5C306.3,151.4 307.1,151.1 308.0,152.2C308.9,153.3 309.9,157.0 310.3,158.0M310.8,191.0C311.7,191.1 313.3,191.5 316.0,191.5C318.7,191.5 324.0,191.7 326.8,191.2C329.6,190.7 330.9,189.7 332.8,188.4C334.7,187.1 336.5,185.5 338.3,183.5C340.1,181.5 341.9,178.9 343.7,176.4C345.5,173.9 347.4,170.6 349.2,168.7C351.0,166.8 353.0,165.1 354.6,164.8C356.2,164.5 357.6,165.9 359.0,167.0C360.4,168.1 361.2,170.1 363.0,171.3C364.8,172.5 367.9,173.9 369.6,174.2C371.3,174.5 371.9,173.6 373.0,173.0C374.1,172.4 374.8,172.0 376.0,170.5C377.2,169.0 378.8,166.6 380.2,164.0C381.6,161.4 383.1,157.4 384.3,155.0C385.5,152.6 386.0,151.8 387.6,149.5C389.2,147.2 391.6,144.1 393.7,141.5C395.8,138.9 398.2,136.2 400.0,134.0C401.8,131.8 403.1,129.8 404.6,128.0C406.1,126.2 407.6,124.3 409.0,123.0C410.4,121.7 411.5,120.2 413.0,120.0C414.5,119.8 416.2,121.2 418.0,122.0C419.8,122.8 421.7,124.5 424.0,124.8C426.3,125.0 429.2,124.1 432.0,123.5C434.8,122.9 438.5,121.6 441.0,121.0C443.5,120.4 445.1,120.3 447.0,120.0C448.9,119.7 451.8,119.2 452.7,119.0M453.5,120.0C453.9,121.7 455.1,127.0 456.0,130.0C456.9,133.0 457.9,135.8 459.0,138.0C460.1,140.2 461.4,141.5 462.6,143.2C463.8,144.9 465.5,147.3 466.3,148.4C467.1,149.5 467.1,149.7 467.3,150.0M468.0,120.0C469.2,120.0 472.6,119.9 475.0,120.3C477.4,120.7 481.2,122.1 482.5,122.5M483.2,126.5C483.9,127.6 486.0,131.6 487.3,133.2C488.6,134.8 489.6,135.2 491.0,136.0C492.4,136.8 493.4,137.2 495.5,137.8C497.6,138.4 501.0,139.0 503.7,139.5C506.4,140.0 510.3,140.7 511.9,141.0C513.0,141.3 512.8,141.2 513.0,141.2M515.0,160.5C515.7,160.0 517.5,158.1 519.0,157.3C520.5,156.5 522.6,155.7 523.9,155.6C525.2,155.5 526.0,156.3 527.0,156.8C528.0,157.3 528.8,157.9 529.6,158.5C530.4,159.1 531.3,159.9 532.0,160.5C532.7,161.1 533.3,161.2 534.0,162.0C534.7,162.8 535.5,164.0 536.1,165.0C536.7,166.0 537.5,167.5 537.8,168.0M539.5,140.0L545.0,133.0" stroke="#2474B9" stroke-width="3.9"/>
<path d="M310.3,158.0 L310.8,191.0M452.7,119.0 L453.5,120.0M467.3,150.0 L468.0,120.0M482.5,122.5 L483.2,126.5M513.0,141.2 L515.0,160.5M537.8,168.0 L539.5,140.0" stroke="#2474B9" stroke-width="2.8"/>
<circle cx="310.5" cy="169.0" r="2.2" fill="#2474B9" stroke="none"/>
<circle cx="310.6" cy="180.0" r="2.2" fill="#2474B9" stroke="none"/>
<circle cx="467.5" cy="140.0" r="2.2" fill="#2474B9" stroke="none"/>
<circle cx="467.8" cy="130.0" r="2.2" fill="#2474B9" stroke="none"/>
<circle cx="538.4" cy="158.7" r="2.2" fill="#2474B9" stroke="none"/>
<circle cx="538.9" cy="149.3" r="2.2" fill="#2474B9" stroke="none"/>
<path d="M400.0,134.0C400.8,133.0 403.1,129.8 404.6,128.0C406.1,126.2 407.6,124.3 409.0,123.0C410.4,121.7 411.5,120.2 413.0,120.0C414.5,119.8 416.2,121.2 418.0,122.0C419.8,122.8 421.7,124.5 424.0,124.8C426.3,125.0 429.2,124.1 432.0,123.5C434.8,122.9 438.5,121.6 441.0,121.0C443.5,120.4 445.1,120.3 447.0,120.0C448.9,119.7 451.8,119.2 452.7,119.0" stroke="#2474B9" stroke-width="4.2"/>
<path d="M487.3,133.2C487.9,133.7 489.6,135.2 491.0,136.0C492.4,136.8 493.4,137.2 495.5,137.8C497.6,138.4 501.0,139.0 503.7,139.5C506.4,140.0 510.3,140.7 511.9,141.0C513.0,141.3 512.8,141.2 513.0,141.2" stroke="#2474B9" stroke-width="4.4"/>
<path d="M515.0,160.5C515.7,160.0 517.5,158.1 519.0,157.3C520.5,156.5 522.6,155.7 523.9,155.6C525.2,155.5 526.0,156.3 527.0,156.8C528.0,157.3 528.8,157.9 529.6,158.5C530.4,159.1 531.3,159.9 532.0,160.5C532.7,161.1 533.3,161.2 534.0,162.0C534.7,162.8 535.5,164.0 536.1,165.0C536.7,166.0 537.5,167.5 537.8,168.0" stroke="#2474B9" stroke-width="4.3"/>
<path d="M539.5,140.0L545.0,133.0" stroke="#2474B9" stroke-width="4.3"/>
<path d="M468.0,120.0C469.2,120.0 472.6,119.9 475.0,120.3C477.4,120.7 481.2,122.1 482.5,122.5" stroke="#2474B9" stroke-width="5.0"/>
<path d="M57.0,116.5C59.2,116.5 66.5,116.4 70.0,116.5C73.5,116.6 75.3,116.6 78.0,117.0C80.7,117.4 83.4,118.0 86.0,118.8C88.6,119.6 91.3,120.5 93.6,122.0C95.9,123.5 97.6,125.4 100.0,127.7C102.4,130.0 105.3,133.0 108.0,135.6C110.7,138.2 113.5,141.1 116.0,143.0C118.5,144.9 120.0,146.0 122.7,147.3C125.4,148.6 129.1,150.9 132.0,151.0C134.9,151.1 137.8,150.0 140.0,148.0C142.2,146.0 143.7,143.3 145.0,139.0C146.3,134.7 147.1,126.7 148.0,122.0C148.9,117.3 149.6,111.0 150.4,111.0C151.2,111.0 152.1,117.7 153.0,122.0C153.9,126.3 155.1,133.2 156.0,137.0C156.9,140.8 158.0,142.7 158.7,144.5C159.4,146.3 159.3,146.3 160.0,147.8C160.7,149.3 162.0,151.7 163.0,153.5C164.0,155.3 165.0,157.1 166.0,158.8C167.0,160.6 168.0,162.2 169.0,164.0C170.0,165.8 170.0,166.7 172.0,169.5C174.0,172.3 177.9,178.2 181.0,181.0C184.1,183.8 187.4,185.1 190.5,186.4C193.6,187.7 195.0,187.7 199.5,189.0C204.0,190.3 211.6,192.7 217.7,194.5C223.8,196.3 230.3,198.6 236.0,200.0C241.7,201.4 245.9,202.3 251.6,203.0C257.3,203.7 263.9,203.9 270.0,204.2C276.1,204.4 281.2,204.4 288.0,204.5C294.8,204.6 306.8,204.7 310.5,204.7M311.5,176.0C311.9,175.5 312.9,173.6 314.0,173.0C315.1,172.4 316.7,172.2 318.0,172.5C319.3,172.8 320.5,173.8 322.0,175.0C323.5,176.2 324.8,177.7 326.8,179.8C328.8,181.9 331.8,185.3 334.0,187.8C336.2,190.3 338.3,192.7 340.0,194.6C341.7,196.5 342.6,198.2 344.0,199.5C345.4,200.8 346.3,202.1 348.1,202.7C349.9,203.3 352.4,203.7 354.6,203.3C356.8,202.9 358.8,201.2 361.2,200.3C363.6,199.4 366.8,198.2 369.0,198.1C371.2,198.0 372.3,199.0 374.3,200.0C376.3,201.0 378.9,203.1 380.8,204.0C382.8,204.9 384.2,205.6 386.0,205.3C387.8,205.0 389.4,203.6 391.3,202.3C393.2,201.0 395.8,198.7 397.5,197.5C399.2,196.3 400.3,196.2 401.4,195.0C402.5,193.8 403.2,192.2 404.0,190.0C404.8,187.8 405.6,184.8 406.4,182.0C407.2,179.2 408.0,175.5 408.8,173.0C409.6,170.5 410.2,168.4 411.0,167.0C411.8,165.6 412.6,164.6 413.4,164.8C414.2,165.0 415.3,166.8 416.0,168.0C416.7,169.2 417.1,170.7 417.8,172.0C418.5,173.3 419.1,174.9 420.2,176.1C421.3,177.3 422.7,178.8 424.3,179.0C425.9,179.2 428.6,177.9 430.0,177.2C431.4,176.5 432.0,176.0 433.0,174.8C434.0,173.6 434.9,171.8 436.0,170.0C437.1,168.2 438.7,165.6 439.8,164.0C440.9,162.4 441.6,161.7 442.5,160.5C443.4,159.3 444.5,157.8 445.5,156.6C446.5,155.4 447.4,154.4 448.4,153.3C449.3,152.2 450.4,151.9 451.2,150.0C452.0,148.1 452.7,143.3 453.0,142.0M454.0,110.0C454.2,107.5 454.8,99.2 455.5,95.0C456.2,90.8 457.1,87.2 458.0,85.0C458.9,82.8 460.0,82.2 461.0,81.5C462.0,80.8 463.1,80.8 464.0,81.0C464.9,81.2 465.9,81.0 466.5,82.5C467.1,84.0 467.2,88.8 467.3,90.0M467.6,149.2C467.7,145.8 468.0,128.1 468.2,128.5C468.4,128.9 468.6,151.6 468.8,151.6C469.0,151.6 469.2,128.1 469.4,128.5C469.6,128.9 469.8,154.0 470.0,154.0C470.2,154.0 470.4,128.1 470.6,128.5C470.8,128.9 471.0,156.4 471.2,156.4C471.4,156.4 471.6,128.1 471.8,128.5C472.0,128.9 472.2,158.8 472.4,158.8C472.6,158.8 472.8,128.1 473.0,128.5C473.2,128.9 473.4,161.2 473.6,161.2C473.8,161.2 474.0,128.1 474.2,128.5C474.4,128.9 474.6,163.6 474.8,163.6C475.0,163.6 475.2,128.1 475.4,128.5C475.6,128.9 475.8,166.0 476.0,166.0C476.2,166.0 476.4,128.5 476.6,128.5C476.8,128.5 477.0,166.0 477.2,166.0C477.4,166.0 477.6,128.5 477.8,128.5C478.0,128.5 478.2,166.0 478.4,166.0C478.6,166.0 478.8,128.5 479.0,128.5C479.2,128.5 479.4,166.0 479.6,166.0C479.8,166.0 480.0,128.5 480.2,128.5C480.4,128.5 480.6,166.0 480.8,166.0C481.0,166.0 481.3,134.8 481.4,128.5M482.2,168.0C482.3,169.5 482.6,174.4 483.0,177.0C483.4,179.6 483.8,181.6 484.5,183.5C485.2,185.4 485.8,186.9 487.0,188.2C488.2,189.4 490.4,190.3 492.0,191.0C493.6,191.7 495.0,192.3 496.8,192.6C498.6,192.9 500.7,192.8 503.0,193.0C505.3,193.2 509.0,193.3 510.6,193.8C512.2,194.3 512.3,194.9 512.8,196.0C513.3,197.1 513.4,199.8 513.5,200.5M514.0,124.0C514.3,122.4 515.2,117.2 516.0,114.5C516.8,111.8 518.0,109.7 519.0,108.0C520.0,106.3 521.1,105.2 522.0,104.5C522.9,103.8 523.7,103.3 524.5,103.5C525.3,103.7 526.2,105.2 527.0,105.5C527.8,105.8 528.2,104.4 529.0,105.0C529.8,105.6 531.0,107.5 532.0,109.0C533.0,110.5 534.2,112.0 535.0,114.0C535.8,116.0 536.0,117.5 536.5,121.0C537.0,124.5 537.8,132.7 538.0,135.0M538.6,204.4C538.8,204.2 539.1,204.1 539.5,203.0C539.9,201.9 540.4,200.0 541.0,198.0C541.6,196.0 542.4,192.8 543.0,191.0C543.6,189.2 544.2,187.7 544.4,187.0" stroke="#D77020" stroke-width="3.9"/>
<path d="M310.5,204.7 L311.5,176.0M453.0,142.0 L454.0,110.0M467.3,90.0 L467.6,149.2M481.4,128.5 L482.2,168.0M513.5,200.5 L514.0,124.0M538.0,135.0 L538.6,204.4" stroke="#D77020" stroke-width="2.8"/>
<circle cx="310.8" cy="195.1" r="2.2" fill="#D77020" stroke="none"/>
<circle cx="311.2" cy="185.6" r="2.2" fill="#D77020" stroke="none"/>
<circle cx="453.3" cy="131.3" r="2.2" fill="#D77020" stroke="none"/>
<circle cx="453.7" cy="120.7" r="2.2" fill="#D77020" stroke="none"/>
<circle cx="467.4" cy="101.8" r="2.2" fill="#D77020" stroke="none"/>
<circle cx="467.4" cy="113.7" r="2.2" fill="#D77020" stroke="none"/>
<circle cx="467.5" cy="125.5" r="2.2" fill="#D77020" stroke="none"/>
<circle cx="467.5" cy="137.4" r="2.2" fill="#D77020" stroke="none"/>
<circle cx="481.7" cy="141.7" r="2.2" fill="#D77020" stroke="none"/>
<circle cx="481.9" cy="154.8" r="2.2" fill="#D77020" stroke="none"/>
<circle cx="513.6" cy="187.8" r="2.2" fill="#D77020" stroke="none"/>
<circle cx="513.7" cy="175.0" r="2.2" fill="#D77020" stroke="none"/>
<circle cx="513.8" cy="162.2" r="2.2" fill="#D77020" stroke="none"/>
<circle cx="513.8" cy="149.5" r="2.2" fill="#D77020" stroke="none"/>
<circle cx="513.9" cy="136.8" r="2.2" fill="#D77020" stroke="none"/>
<circle cx="538.1" cy="148.9" r="2.2" fill="#D77020" stroke="none"/>
<circle cx="538.2" cy="162.8" r="2.2" fill="#D77020" stroke="none"/>
<circle cx="538.4" cy="176.6" r="2.2" fill="#D77020" stroke="none"/>
<circle cx="538.5" cy="190.5" r="2.2" fill="#D77020" stroke="none"/>
<path d="M57.0,116.5C59.2,116.5 66.5,116.4 70.0,116.5C73.5,116.6 75.3,116.6 78.0,117.0C80.7,117.4 83.4,118.0 86.0,118.8C88.6,119.6 91.3,120.5 93.6,122.0C95.9,123.5 98.9,126.8 100.0,127.7" stroke="#D77020" stroke-width="4.3"/>
<path d="M100.0,127.7C101.3,129.0 105.3,133.0 108.0,135.6C110.7,138.2 113.5,141.1 116.0,143.0C118.5,144.9 120.0,146.0 122.7,147.3C125.4,148.6 129.1,150.9 132.0,151.0C134.9,151.1 137.8,150.0 140.0,148.0C142.2,146.0 143.7,143.3 145.0,139.0C146.3,134.7 147.1,126.7 148.0,122.0C148.9,117.3 149.6,111.0 150.4,111.0C151.2,111.0 152.1,117.7 153.0,122.0C153.9,126.3 155.1,133.2 156.0,137.0C156.9,140.8 158.0,142.7 158.7,144.5C159.4,146.3 159.3,146.3 160.0,147.8C160.7,149.3 162.0,151.7 163.0,153.5C164.0,155.3 165.0,157.1 166.0,158.8C167.0,160.6 168.0,162.2 169.0,164.0C170.0,165.8 170.0,166.7 172.0,169.5C174.0,172.3 177.9,178.2 181.0,181.0C184.1,183.8 187.4,185.1 190.5,186.4C193.6,187.7 195.0,187.7 199.5,189.0C204.0,190.3 211.6,192.7 217.7,194.5C223.8,196.3 232.9,199.1 236.0,200.0" stroke="#D77020" stroke-width="4.4"/>
<path d="M311.5,176.0C311.9,175.5 312.9,173.6 314.0,173.0C315.1,172.4 316.7,172.2 318.0,172.5C319.3,172.8 320.5,173.8 322.0,175.0C323.5,176.2 324.8,177.7 326.8,179.8C328.8,181.9 331.8,185.3 334.0,187.8C336.2,190.3 338.3,192.7 340.0,194.6C341.7,196.5 342.6,198.2 344.0,199.5C345.4,200.8 346.3,202.1 348.1,202.7C349.9,203.3 352.4,203.7 354.6,203.3C356.8,202.9 358.8,201.2 361.2,200.3C363.6,199.4 366.8,198.2 369.0,198.1C371.2,198.0 372.3,199.0 374.3,200.0C376.3,201.0 378.9,203.1 380.8,204.0C382.8,204.9 384.2,205.6 386.0,205.3C387.8,205.0 389.4,203.6 391.3,202.3C393.2,201.0 395.8,198.7 397.5,197.5C399.2,196.3 400.3,196.2 401.4,195.0C402.5,193.8 403.6,190.8 404.0,190.0" stroke="#D77020" stroke-width="4.5"/>
<path d="M451.2,150.0L453.0,142.0" stroke="#D77020" stroke-width="5.0"/>
<path d="M454.0,110.0C454.2,107.5 454.8,99.2 455.5,95.0C456.2,90.8 457.1,87.2 458.0,85.0C458.9,82.8 460.0,82.2 461.0,81.5C462.0,80.8 463.1,80.8 464.0,81.0C464.9,81.2 465.9,81.0 466.5,82.5C467.1,84.0 467.2,88.8 467.3,90.0" stroke="#D77020" stroke-width="5.0"/>
<path d="M514.0,124.0C514.3,122.4 515.2,117.2 516.0,114.5C516.8,111.8 518.0,109.7 519.0,108.0C520.0,106.3 521.1,105.2 522.0,104.5C522.9,103.8 523.7,103.3 524.5,103.5C525.3,103.7 526.2,105.2 527.0,105.5C527.8,105.8 528.2,104.4 529.0,105.0C529.8,105.6 531.0,107.5 532.0,109.0C533.0,110.5 534.2,112.0 535.0,114.0C535.8,116.0 536.0,117.5 536.5,121.0C537.0,124.5 537.8,132.7 538.0,135.0" stroke="#D77020" stroke-width="4.7"/>
<path d="M538.6,204.4C538.8,204.2 539.1,204.1 539.5,203.0C539.9,201.9 540.4,200.0 541.0,198.0C541.6,196.0 542.4,192.8 543.0,191.0C543.6,189.2 544.2,187.7 544.4,187.0" stroke="#D77020" stroke-width="4.7"/>
<path d="M404.0,190.0C404.4,188.7 405.6,184.8 406.4,182.0C407.2,179.2 408.0,175.5 408.8,173.0C409.6,170.5 410.2,168.4 411.0,167.0C411.8,165.6 412.6,164.6 413.4,164.8C414.2,165.0 415.3,166.8 416.0,168.0C416.7,169.2 417.1,170.7 417.8,172.0C418.5,173.3 419.1,174.9 420.2,176.1C421.3,177.3 422.7,178.8 424.3,179.0C425.9,179.2 428.6,177.9 430.0,177.2C431.4,176.5 432.0,176.0 433.0,174.8C434.0,173.6 434.9,171.8 436.0,170.0C437.1,168.2 438.7,165.6 439.8,164.0C440.9,162.4 441.6,161.7 442.5,160.5C443.4,159.3 444.5,157.8 445.5,156.6C446.5,155.4 447.4,154.4 448.4,153.3C449.3,152.2 450.7,150.6 451.2,150.0" stroke="#D77020" stroke-width="4.2"/>
<path d="M480.8,166.0L481.4,128.5" stroke="#D77020" stroke-width="4.2"/>
<path d="M482.2,168.0C482.3,169.5 482.6,174.4 483.0,177.0C483.4,179.6 483.8,181.6 484.5,183.5C485.2,185.4 485.8,186.9 487.0,188.2C488.2,189.4 490.4,190.3 492.0,191.0C493.6,191.7 495.0,192.3 496.8,192.6C498.6,192.9 500.7,192.8 503.0,193.0C505.3,193.2 509.0,193.3 510.6,193.8C512.2,194.3 512.3,194.9 512.8,196.0C513.3,197.1 513.4,199.8 513.5,200.5" stroke="#D77020" stroke-width="4.2"/>
</g>
<line x1="74.0" x2="96.0" y1="290.6" y2="290.6" stroke="#4472C4" stroke-width="2.3" stroke-linecap="round"/>
<circle cx="85.0" cy="290.6" r="2.7" fill="#4472C4"/>
<text x="97.5" y="292.8" font-family="Liberation Serif, Times New Roman, serif" font-size="12.2" font-style="italic" fill="#303030">w<tspan font-style="normal" font-size="9.2" dy="2.2" dx="0.3">1</tspan></text>
<line x1="118.8" x2="140.8" y1="290.6" y2="290.6" stroke="#ED7D31" stroke-width="2.3" stroke-linecap="round"/>
<circle cx="129.8" cy="290.6" r="2.7" fill="#ED7D31"/>
<text x="142.3" y="292.8" font-family="Liberation Serif, Times New Roman, serif" font-size="12.2" font-style="italic" fill="#303030">w<tspan font-style="normal" font-size="9.2" dy="2.2" dx="0.3">2</tspan></text>
<line x1="163.6" x2="185.6" y1="290.6" y2="290.6" stroke="#A5A5A5" stroke-width="2.3" stroke-linecap="round"/>
<circle cx="174.6" cy="290.6" r="2.7" fill="#A5A5A5"/>
<text x="187.1" y="292.8" font-family="Liberation Serif, Times New Roman, serif" font-size="12.2" font-style="italic" fill="#303030">w<tspan font-style="normal" font-size="9.2" dy="2.2" dx="0.3">3</tspan></text>
<line x1="208.4" x2="230.4" y1="290.6" y2="290.6" stroke="#FFC000" stroke-width="2.3" stroke-linecap="round"/>
<circle cx="219.4" cy="290.6" r="2.7" fill="#FFC000"/>
<text x="231.9" y="292.8" font-family="Liberation Serif, Times New Roman, serif" font-size="12.2" font-style="italic" fill="#303030">w<tspan font-style="normal" font-size="9.2" dy="2.2" dx="0.3">4</tspan></text>
<line x1="253.2" x2="275.2" y1="290.6" y2="290.6" stroke="#5B9BD5" stroke-width="2.3" stroke-linecap="round"/>
<circle cx="264.2" cy="290.6" r="2.7" fill="#5B9BD5"/>
<text x="276.7" y="292.8" font-family="Liberation Serif, Times New Roman, serif" font-size="12.2" font-style="italic" fill="#303030">w<tspan font-style="normal" font-size="9.2" dy="2.2" dx="0.3">5</tspan></text>
<line x1="298.0" x2="320.0" y1="290.6" y2="290.6" stroke="#70AD47" stroke-width="2.3" stroke-linecap="round"/>
<circle cx="309.0" cy="290.6" r="2.7" fill="#70AD47"/>
<text x="321.5" y="292.8" font-family="Liberation Serif, Times New Roman, serif" font-size="12.2" font-style="italic" fill="#303030">w<tspan font-style="normal" font-size="9.2" dy="2.2" dx="0.3">6</tspan></text>
<line x1="342.8" x2="364.8" y1="290.6" y2="290.6" stroke="#264478" stroke-width="2.3" stroke-linecap="round"/>
<circle cx="353.8" cy="290.6" r="2.7" fill="#264478"/>
<text x="366.3" y="292.8" font-family="Liberation Serif, Times New Roman, serif" font-size="12.2" font-style="italic" fill="#303030">w<tspan font-style="normal" font-size="9.2" dy="2.2" dx="0.3">7</tspan></text>
<line x1="387.6" x2="409.6" y1="290.6" y2="290.6" stroke="#9E480E" stroke-width="2.3" stroke-linecap="round"/>
<circle cx="398.6" cy="290.6" r="2.7" fill="#9E480E"/>
<text x="411.1" y="292.8" font-family="Liberation Serif, Times New Roman, serif" font-size="12.2" font-style="italic" fill="#303030">w<tspan font-style="normal" font-size="9.2" dy="2.2" dx="0.3">8</tspan></text>
<line x1="432.4" x2="454.4" y1="290.6" y2="290.6" stroke="#7A7A7A" stroke-width="2.3" stroke-linecap="round"/>
<circle cx="443.4" cy="290.6" r="2.7" fill="#7A7A7A"/>
<text x="455.9" y="292.8" font-family="Liberation Serif, Times New Roman, serif" font-size="12.2" font-style="italic" fill="#303030">w<tspan font-style="normal" font-size="9.2" dy="2.2" dx="0.3">9</tspan></text>
<line x1="477.2" x2="499.2" y1="290.6" y2="290.6" stroke="#997300" stroke-width="2.3" stroke-linecap="round"/>
<circle cx="488.2" cy="290.6" r="2.7" fill="#997300"/>
<text x="500.7" y="292.8" font-family="Liberation Serif, Times New Roman, serif" font-size="12.2" font-style="italic" fill="#303030">w<tspan font-style="normal" font-size="9.2" dy="2.2" dx="0.3">10</tspan></text>
<line x1="74.0" x2="96.0" y1="303.6" y2="303.6" stroke="#255E91" stroke-width="2.3" stroke-linecap="round"/>
<circle cx="85.0" cy="303.6" r="2.7" fill="#255E91"/>
<text x="97.5" y="305.8" font-family="Liberation Serif, Times New Roman, serif" font-size="12.2" font-style="italic" fill="#303030">w<tspan font-style="normal" font-size="9.2" dy="2.2" dx="0.3">11</tspan></text>
<line x1="118.8" x2="140.8" y1="303.6" y2="303.6" stroke="#43682B" stroke-width="2.3" stroke-linecap="round"/>
<circle cx="129.8" cy="303.6" r="2.7" fill="#43682B"/>
<text x="142.3" y="305.8" font-family="Liberation Serif, Times New Roman, serif" font-size="12.2" font-style="italic" fill="#303030">w<tspan font-style="normal" font-size="9.2" dy="2.2" dx="0.3">12</tspan></text>
<line x1="163.6" x2="185.6" y1="303.6" y2="303.6" stroke="#698ED0" stroke-width="2.3" stroke-linecap="round"/>
<circle cx="174.6" cy="303.6" r="2.7" fill="#698ED0"/>
<text x="187.1" y="305.8" font-family="Liberation Serif, Times New Roman, serif" font-size="12.2" font-style="italic" fill="#303030">w<tspan font-style="normal" font-size="9.2" dy="2.2" dx="0.3">13</tspan></text>
<line x1="208.4" x2="230.4" y1="303.6" y2="303.6" stroke="#F1975A" stroke-width="2.3" stroke-linecap="round"/>
<circle cx="219.4" cy="303.6" r="2.7" fill="#F1975A"/>
<text x="231.9" y="305.8" font-family="Liberation Serif, Times New Roman, serif" font-size="12.2" font-style="italic" fill="#303030">w<tspan font-style="normal" font-size="9.2" dy="2.2" dx="0.3">14</tspan></text>
<line x1="253.2" x2="275.2" y1="303.6" y2="303.6" stroke="#B7B7B7" stroke-width="2.3" stroke-linecap="round"/>
<circle cx="264.2" cy="303.6" r="2.7" fill="#B7B7B7"/>
<text x="276.7" y="305.8" font-family="Liberation Serif, Times New Roman, serif" font-size="12.2" font-style="italic" fill="#303030">w<tspan font-style="normal" font-size="9.2" dy="2.2" dx="0.3">15</tspan></text>
<line x1="298.0" x2="320.0" y1="303.6" y2="303.6" stroke="#FFCD33" stroke-width="2.3" stroke-linecap="round"/>
<circle cx="309.0" cy="303.6" r="2.7" fill="#FFCD33"/>
<text x="321.5" y="305.8" font-family="Liberation Serif, Times New Roman, serif" font-size="12.2" font-style="italic" fill="#303030">w<tspan font-style="normal" font-size="9.2" dy="2.2" dx="0.3">16</tspan></text>
<line x1="342.8" x2="364.8" y1="303.6" y2="303.6" stroke="#7CAFDD" stroke-width="2.3" stroke-linecap="round"/>
<circle cx="353.8" cy="303.6" r="2.7" fill="#7CAFDD"/>
<text x="366.3" y="305.8" font-family="Liberation Serif, Times New Roman, serif" font-size="12.2" font-style="italic" fill="#303030">w<tspan font-style="normal" font-size="9.2" dy="2.2" dx="0.3">17</tspan></text>
<line x1="387.6" x2="409.6" y1="303.6" y2="303.6" stroke="#7AC465" stroke-width="2.3" stroke-linecap="round"/>
<circle cx="398.6" cy="303.6" r="2.7" fill="#7AC465"/>
<text x="411.1" y="305.8" font-family="Liberation Serif, Times New Roman, serif" font-size="12.2" font-style="italic" fill="#303030">w<tspan font-style="normal" font-size="9.2" dy="2.2" dx="0.3">18</tspan></text>
<line x1="432.4" x2="454.4" y1="303.6" y2="303.6" stroke="#2E6CBE" stroke-width="2.3" stroke-linecap="round"/>
<circle cx="443.4" cy="303.6" r="2.7" fill="#2E6CBE"/>
<text x="455.9" y="305.8" font-family="Liberation Serif, Times New Roman, serif" font-size="12.2" font-style="italic" fill="#303030">w<tspan font-style="normal" font-size="9.2" dy="2.2" dx="0.3">19</tspan></text>
<line x1="477.2" x2="499.2" y1="303.6" y2="303.6" stroke="#D26012" stroke-width="2.3" stroke-linecap="round"/>
<circle cx="488.2" cy="303.6" r="2.7" fill="#D26012"/>
<text x="500.7" y="305.8" font-family="Liberation Serif, Times New Roman, serif" font-size="12.2" font-style="italic" fill="#303030">w<tspan font-style="normal" font-size="9.2" dy="2.2" dx="0.3">20</tspan></text>
</svg>
</body></html>
